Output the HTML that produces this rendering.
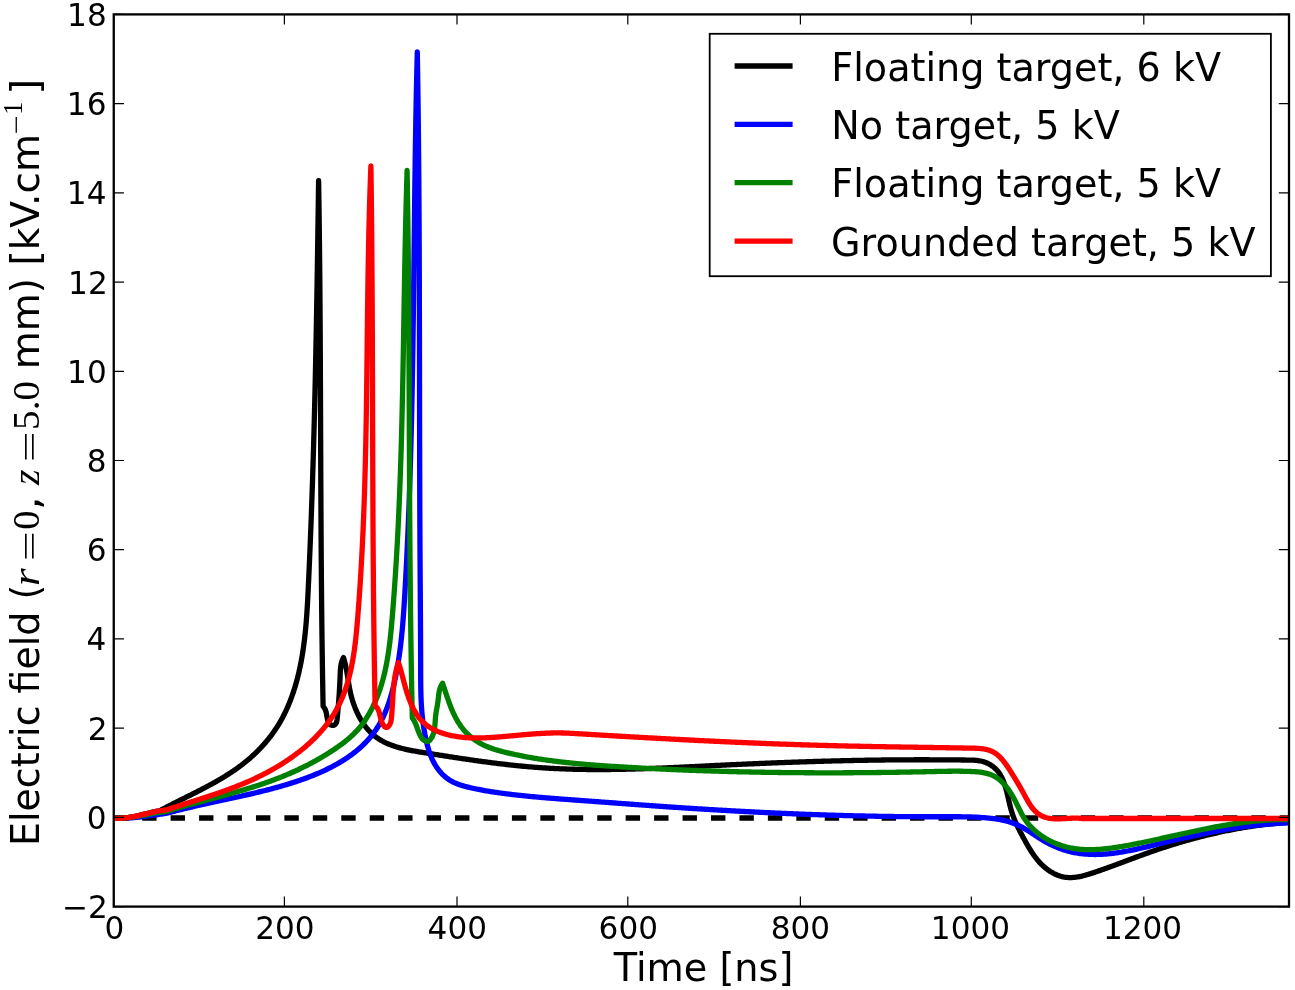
<!DOCTYPE html>
<html lang="en"><head><meta charset="utf-8">
<title>Electric field vs time</title>
<style>html,body{margin:0;padding:0;background:#fff}body{width:1295px;height:990px;overflow:hidden}svg{display:block}text{font-family:'DejaVu Sans','Bitstream Vera Sans','Liberation Sans',sans-serif;fill:#000}.m{font-family:'Liberation Serif','DejaVu Serif',serif}</style></head><body>
<svg width="1295" height="990" viewBox="0 0 1295 990">
<rect x="0" y="0" width="1295" height="990" fill="#fff"/>
<defs><clipPath id="ax"><rect x="113.75" y="14.40" width="1175.25" height="892.20"/></clipPath></defs>
<g clip-path="url(#ax)" fill="none" stroke-linejoin="round" stroke-linecap="butt" stroke-width="5.30">
<path d="M113.75,818.00 H1294.00" stroke="#000" stroke-dasharray="14.4 14.04"/>
<path d="M113.75,818.20 L114.96,818.27 L116.17,818.31 L117.37,818.33 L118.57,818.33 L119.77,818.30 L120.96,818.24 L122.16,818.17 L123.35,818.08 L124.53,817.96 L125.72,817.83 L126.90,817.68 L128.08,817.52 L129.26,817.34 L130.44,817.15 L131.62,816.94 L132.79,816.72 L133.97,816.49 L135.14,816.25 L136.31,816.01 L137.48,815.75 L138.65,815.49 L139.82,815.22 L140.99,814.95 L142.15,814.67 L143.32,814.39 L144.49,814.11 L145.66,813.83 L146.82,813.55 L147.99,813.27 L149.16,813.00 L150.33,812.72 L151.49,812.46 L152.66,812.19 L153.83,811.94 L155.00,811.69 L156.18,811.45 L157.35,811.22 L158.52,811.01 L159.70,810.80 L159.70,810.80 L160.72,810.25 L161.74,809.69 L162.76,809.14 L163.79,808.59 L164.82,808.04 L165.86,807.50 L166.90,806.95 L167.95,806.41 L168.99,805.86 L170.05,805.32 L171.10,804.78 L172.16,804.24 L173.22,803.70 L174.28,803.16 L175.35,802.62 L176.41,802.08 L177.48,801.55 L178.56,801.01 L179.63,800.47 L180.71,799.93 L181.79,799.39 L182.87,798.85 L183.95,798.31 L185.03,797.77 L186.12,797.23 L187.20,796.69 L188.29,796.15 L189.38,795.61 L190.47,795.06 L191.56,794.52 L192.65,793.97 L193.74,793.42 L194.83,792.87 L195.92,792.32 L197.01,791.77 L198.10,791.21 L199.19,790.65 L200.27,790.09 L201.36,789.53 L202.45,788.97 L203.54,788.40 L204.62,787.84 L205.71,787.26 L206.79,786.69 L207.87,786.11 L208.95,785.53 L210.03,784.95 L211.11,784.36 L212.18,783.78 L213.26,783.18 L214.33,782.59 L215.40,781.99 L216.46,781.38 L217.52,780.78 L218.58,780.17 L219.64,779.55 L220.69,778.93 L221.75,778.31 L222.79,777.68 L223.84,777.05 L224.88,776.41 L225.91,775.77 L226.95,775.12 L227.98,774.47 L229.00,773.81 L230.02,773.15 L231.04,772.49 L232.05,771.81 L233.06,771.14 L234.06,770.45 L235.06,769.76 L236.05,769.07 L237.03,768.37 L238.01,767.66 L238.99,766.95 L239.96,766.23 L240.93,765.51 L241.88,764.77 L242.84,764.04 L243.78,763.29 L244.72,762.54 L245.66,761.79 L246.59,761.03 L247.51,760.26 L248.43,759.48 L249.34,758.70 L250.24,757.92 L251.14,757.12 L252.03,756.32 L252.91,755.52 L253.79,754.71 L254.66,753.89 L255.52,753.07 L256.38,752.24 L257.23,751.40 L258.07,750.56 L258.91,749.71 L259.74,748.86 L260.56,748.00 L261.37,747.14 L262.18,746.27 L262.98,745.39 L263.77,744.50 L264.55,743.62 L265.33,742.72 L266.10,741.82 L266.86,740.91 L267.61,740.00 L268.36,739.08 L269.09,738.16 L269.82,737.23 L270.55,736.29 L271.26,735.35 L271.96,734.40 L272.66,733.45 L273.35,732.49 L274.03,731.52 L274.70,730.55 L275.36,729.58 L276.02,728.59 L276.66,727.61 L277.30,726.61 L277.93,725.61 L278.55,724.61 L279.16,723.60 L279.76,722.58 L280.35,721.56 L280.93,720.53 L281.51,719.50 L282.07,718.46 L282.63,717.42 L283.18,716.37 L283.72,715.32 L284.26,714.26 L284.78,713.20 L285.30,712.14 L285.81,711.07 L286.31,709.99 L286.80,708.91 L287.28,707.83 L287.76,706.74 L288.23,705.65 L288.69,704.56 L289.14,703.46 L289.59,702.36 L290.03,701.25 L290.46,700.14 L290.88,699.03 L291.30,697.91 L291.71,696.79 L292.11,695.67 L292.51,694.55 L292.90,693.42 L293.28,692.29 L293.65,691.16 L294.02,690.03 L294.38,688.89 L294.74,687.75 L295.09,686.61 L295.43,685.46 L295.76,684.32 L296.09,683.17 L296.41,682.02 L296.73,680.87 L297.04,679.72 L297.35,678.56 L297.64,677.41 L297.94,676.25 L298.22,675.09 L298.50,673.92 L298.78,672.76 L299.05,671.60 L299.31,670.43 L299.57,669.26 L299.82,668.09 L300.07,666.92 L300.31,665.74 L300.55,664.57 L300.78,663.39 L301.01,662.21 L301.23,661.03 L301.45,659.85 L301.66,658.67 L301.87,657.48 L302.07,656.30 L302.27,655.11 L302.46,653.92 L302.65,652.73 L302.84,651.54 L303.02,650.35 L303.20,649.16 L303.37,647.96 L303.54,646.77 L303.70,645.57 L303.86,644.37 L304.02,643.17 L304.17,641.98 L304.32,640.77 L304.47,639.57 L304.61,638.37 L304.75,637.17 L304.88,635.96 L305.01,634.76 L305.14,633.55 L305.27,632.34 L305.39,631.14 L305.51,629.93 L305.62,628.72 L305.74,627.51 L305.85,626.30 L305.95,625.09 L306.06,623.87 L306.16,622.66 L306.26,621.45 L306.36,620.23 L306.45,619.02 L306.54,617.80 L306.63,616.59 L306.72,615.37 L306.81,614.16 L306.89,612.94 L306.97,611.72 L307.05,610.51 L307.13,609.29 L307.21,608.07 L307.28,606.85 L307.35,605.63 L307.43,604.42 L307.50,603.20 L307.57,601.98 L307.63,600.76 L307.70,599.54 L307.76,598.32 L307.83,597.10 L307.89,595.88 L307.95,594.66 L308.01,593.45 L308.07,592.23 L308.13,591.01 L308.19,589.79 L308.25,588.57 L308.31,587.35 L308.37,586.13 L308.42,584.92 L308.48,583.70 L308.54,582.48 L308.59,581.26 L308.65,580.05 L308.70,578.83 L308.76,577.61 L308.81,576.40 L308.87,575.18 L308.92,573.96 L308.98,572.75 L309.03,571.53 L309.09,570.32 L309.14,569.10 L309.20,567.89 L309.25,566.68 L309.30,565.46 L309.35,564.25 L309.41,563.04 L309.46,561.82 L309.51,560.61 L309.56,559.40 L309.62,558.18 L309.67,556.97 L309.72,555.76 L309.77,554.55 L309.82,553.34 L309.87,552.13 L309.92,550.92 L309.97,549.70 L310.02,548.49 L310.07,547.28 L310.12,546.07 L310.17,544.86 L310.22,543.65 L310.27,542.44 L310.32,541.24 L310.37,540.03 L310.42,538.82 L310.47,537.61 L310.51,536.40 L310.56,535.19 L310.61,533.99 L310.66,532.78 L310.70,531.57 L310.75,530.36 L310.80,529.16 L310.84,527.95 L310.89,526.74 L310.94,525.54 L310.98,524.33 L311.03,523.12 L311.07,521.92 L311.12,520.71 L311.16,519.51 L311.21,518.30 L311.25,517.10 L311.30,515.89 L311.34,514.69 L311.39,513.48 L311.43,512.28 L311.48,511.07 L311.52,509.87 L311.56,508.66 L311.61,507.46 L311.65,506.26 L311.69,505.05 L311.73,503.85 L311.78,502.65 L311.82,501.44 L311.86,500.24 L311.90,499.04 L311.94,497.84 L311.99,496.63 L312.03,495.43 L312.07,494.23 L312.11,493.03 L312.15,491.83 L312.19,490.62 L312.23,489.42 L312.27,488.22 L312.31,487.02 L312.35,485.82 L312.39,484.62 L312.43,483.42 L312.47,482.22 L312.51,481.02 L312.55,479.82 L312.59,478.62 L312.63,477.42 L312.66,476.22 L312.70,475.02 L312.74,473.82 L312.78,472.62 L312.82,471.42 L312.85,470.22 L312.89,469.02 L312.93,467.82 L312.97,466.62 L313.00,465.42 L313.04,464.22 L313.08,463.03 L313.11,461.83 L313.15,460.63 L313.19,459.43 L313.22,458.23 L313.26,457.03 L313.29,455.84 L313.33,454.64 L313.36,453.44 L313.40,452.24 L313.43,451.04 L313.47,449.85 L313.50,448.65 L313.54,447.45 L313.57,446.25 L313.61,445.06 L313.64,443.86 L313.67,442.66 L313.71,441.47 L313.74,440.27 L313.77,439.07 L313.81,437.87 L313.84,436.68 L313.87,435.48 L313.91,434.28 L313.94,433.09 L313.97,431.89 L314.00,430.70 L314.04,429.50 L314.07,428.30 L314.10,427.11 L314.13,425.91 L314.16,424.71 L314.20,423.52 L314.23,422.32 L314.26,421.13 L314.29,419.93 L314.32,418.73 L314.35,417.54 L314.38,416.34 L314.41,415.15 L314.44,413.95 L314.47,412.76 L314.50,411.56 L314.53,410.36 L314.56,409.17 L314.59,407.97 L314.62,406.78 L314.65,405.58 L314.68,404.39 L314.71,403.19 L314.74,402.00 L314.77,400.80 L314.80,399.61 L314.83,398.41 L314.85,397.21 L314.88,396.02 L314.91,394.82 L314.94,393.63 L314.97,392.43 L315.00,391.24 L315.02,390.04 L315.05,388.85 L315.08,387.65 L315.11,386.46 L315.13,385.26 L315.16,384.07 L315.19,382.87 L315.21,381.67 L315.24,380.48 L315.27,379.28 L315.29,378.09 L315.32,376.89 L315.35,375.70 L315.37,374.50 L315.40,373.31 L315.43,372.11 L315.45,370.92 L315.48,369.72 L315.50,368.53 L315.53,367.33 L315.55,366.13 L315.58,364.94 L315.60,363.74 L315.63,362.55 L315.65,361.35 L315.68,360.16 L315.70,358.96 L315.73,357.76 L315.75,356.57 L315.78,355.37 L315.80,354.18 L315.83,352.98 L315.85,351.78 L315.88,350.59 L315.90,349.39 L315.92,348.20 L315.95,347.00 L315.97,345.80 L315.99,344.61 L316.02,343.41 L316.04,342.21 L316.06,341.02 L316.09,339.82 L316.11,338.62 L316.13,337.43 L316.16,336.23 L316.18,335.03 L316.20,333.84 L316.23,332.64 L316.25,331.44 L316.27,330.24 L316.29,329.05 L316.32,327.85 L316.34,326.65 L316.36,325.45 L316.38,324.26 L316.40,323.06 L316.43,321.86 L316.45,320.66 L316.47,319.46 L316.49,318.27 L316.51,317.07 L316.53,315.87 L316.56,314.67 L316.58,313.47 L316.60,312.27 L316.62,311.07 L316.64,309.88 L316.66,308.68 L316.68,307.48 L316.70,306.28 L316.72,305.08 L316.74,303.88 L316.76,302.68 L316.79,301.48 L316.81,300.28 L316.83,299.08 L316.85,297.88 L316.87,296.68 L316.89,295.48 L316.91,294.28 L316.93,293.08 L316.95,291.88 L316.97,290.68 L316.99,289.48 L317.01,288.27 L317.03,287.07 L317.05,285.87 L317.07,284.67 L317.09,283.47 L317.11,282.27 L317.12,281.06 L317.14,279.86 L317.16,278.66 L317.18,277.46 L317.20,276.25 L317.22,275.05 L317.24,273.85 L317.26,272.65 L317.28,271.44 L317.30,270.24 L317.32,269.03 L317.34,267.83 L317.35,266.63 L317.37,265.42 L317.39,264.22 L317.41,263.01 L317.43,261.81 L317.45,260.60 L317.47,259.40 L317.48,258.19 L317.50,256.99 L317.52,255.78 L317.54,254.58 L317.56,253.37 L317.58,252.16 L317.59,250.96 L317.61,249.75 L317.63,248.54 L317.65,247.34 L317.67,246.13 L317.68,244.92 L317.70,243.72 L317.72,242.51 L317.74,241.30 L317.76,240.09 L317.77,238.88 L317.79,237.67 L317.81,236.47 L317.83,235.26 L317.84,234.05 L317.86,232.84 L317.88,231.63 L317.90,230.42 L317.91,229.21 L317.93,228.00 L317.95,226.79 L317.97,225.58 L317.98,224.37 L318.00,223.15 L318.02,221.94 L318.04,220.73 L318.05,219.52 L318.07,218.31 L318.09,217.09 L318.11,215.88 L318.12,214.67 L318.14,213.46 L318.16,212.24 L318.17,211.03 L318.19,209.81 L318.21,208.60 L318.23,207.39 L318.24,206.17 L318.26,204.96 L318.28,203.74 L318.29,202.53 L318.31,201.31 L318.33,200.09 L318.35,198.88 L318.36,197.66 L318.38,196.44 L318.40,195.23 L318.41,194.01 L318.43,192.79 L318.45,191.57 L318.46,190.36 L318.48,189.14 L318.50,187.92 L318.52,186.70 L318.53,185.48 L318.55,184.26 L318.57,183.04 L318.58,181.82 L318.60,180.60 L318.60,180.60 L318.62,181.80 L318.64,183.01 L318.66,184.21 L318.68,185.41 L318.70,186.61 L318.72,187.82 L318.74,189.02 L318.76,190.22 L318.77,191.42 L318.79,192.63 L318.81,193.83 L318.83,195.03 L318.85,196.23 L318.87,197.44 L318.88,198.64 L318.90,199.84 L318.92,201.05 L318.94,202.25 L318.95,203.45 L318.97,204.65 L318.99,205.86 L319.01,207.06 L319.02,208.26 L319.04,209.46 L319.06,210.67 L319.07,211.87 L319.09,213.07 L319.11,214.27 L319.12,215.48 L319.14,216.68 L319.15,217.88 L319.17,219.09 L319.18,220.29 L319.20,221.49 L319.22,222.69 L319.23,223.90 L319.25,225.10 L319.26,226.30 L319.28,227.50 L319.29,228.71 L319.30,229.91 L319.32,231.11 L319.33,232.31 L319.35,233.52 L319.36,234.72 L319.38,235.92 L319.39,237.13 L319.40,238.33 L319.42,239.53 L319.43,240.73 L319.44,241.94 L319.46,243.14 L319.47,244.34 L319.48,245.54 L319.50,246.75 L319.51,247.95 L319.52,249.15 L319.53,250.36 L319.55,251.56 L319.56,252.76 L319.57,253.96 L319.58,255.17 L319.60,256.37 L319.61,257.57 L319.62,258.77 L319.63,259.98 L319.64,261.18 L319.66,262.38 L319.67,263.59 L319.68,264.79 L319.69,265.99 L319.70,267.19 L319.71,268.40 L319.72,269.60 L319.73,270.80 L319.74,272.01 L319.76,273.21 L319.77,274.41 L319.78,275.61 L319.79,276.82 L319.80,278.02 L319.81,279.22 L319.82,280.42 L319.83,281.63 L319.84,282.83 L319.85,284.03 L319.86,285.24 L319.87,286.44 L319.88,287.64 L319.89,288.84 L319.90,290.05 L319.91,291.25 L319.91,292.45 L319.92,293.66 L319.93,294.86 L319.94,296.06 L319.95,297.26 L319.96,298.47 L319.97,299.67 L319.98,300.87 L319.99,302.07 L320.00,303.28 L320.00,304.48 L320.01,305.68 L320.02,306.89 L320.03,308.09 L320.04,309.29 L320.05,310.49 L320.05,311.70 L320.06,312.90 L320.07,314.10 L320.08,315.31 L320.08,316.51 L320.09,317.71 L320.10,318.91 L320.11,320.12 L320.12,321.32 L320.12,322.52 L320.13,323.72 L320.14,324.93 L320.14,326.13 L320.15,327.33 L320.16,328.54 L320.17,329.74 L320.17,330.94 L320.18,332.14 L320.19,333.35 L320.19,334.55 L320.20,335.75 L320.21,336.96 L320.21,338.16 L320.22,339.36 L320.23,340.56 L320.23,341.77 L320.24,342.97 L320.25,344.17 L320.25,345.38 L320.26,346.58 L320.27,347.78 L320.27,348.98 L320.28,350.19 L320.28,351.39 L320.29,352.59 L320.30,353.80 L320.30,355.00 L320.31,356.20 L320.31,357.40 L320.32,358.61 L320.33,359.81 L320.33,361.01 L320.34,362.21 L320.34,363.42 L320.35,364.62 L320.35,365.82 L320.36,367.03 L320.37,368.23 L320.37,369.43 L320.38,370.63 L320.38,371.84 L320.39,373.04 L320.39,374.24 L320.40,375.45 L320.40,376.65 L320.41,377.85 L320.41,379.05 L320.42,380.26 L320.42,381.46 L320.43,382.66 L320.43,383.87 L320.44,385.07 L320.44,386.27 L320.45,387.47 L320.45,388.68 L320.46,389.88 L320.46,391.08 L320.47,392.29 L320.47,393.49 L320.48,394.69 L320.48,395.89 L320.49,397.10 L320.49,398.30 L320.50,399.50 L320.50,400.71 L320.51,401.91 L320.51,403.11 L320.52,404.31 L320.52,405.52 L320.53,406.72 L320.53,407.92 L320.54,409.13 L320.54,410.33 L320.55,411.53 L320.55,412.73 L320.55,413.94 L320.56,415.14 L320.56,416.34 L320.57,417.55 L320.57,418.75 L320.58,419.95 L320.58,421.15 L320.59,422.36 L320.59,423.56 L320.60,424.76 L320.60,425.96 L320.61,427.17 L320.61,428.37 L320.61,429.57 L320.62,430.78 L320.62,431.98 L320.63,433.18 L320.63,434.38 L320.64,435.59 L320.64,436.79 L320.65,437.99 L320.65,439.20 L320.66,440.40 L320.66,441.60 L320.66,442.80 L320.67,444.01 L320.67,445.21 L320.68,446.41 L320.68,447.62 L320.69,448.82 L320.69,450.02 L320.70,451.22 L320.70,452.43 L320.71,453.63 L320.71,454.83 L320.72,456.04 L320.72,457.24 L320.73,458.44 L320.73,459.64 L320.73,460.85 L320.74,462.05 L320.74,463.25 L320.75,464.46 L320.75,465.66 L320.76,466.86 L320.76,468.06 L320.77,469.27 L320.77,470.47 L320.78,471.67 L320.78,472.88 L320.79,474.08 L320.79,475.28 L320.80,476.48 L320.80,477.69 L320.81,478.89 L320.81,480.09 L320.82,481.29 L320.82,482.50 L320.83,483.70 L320.83,484.90 L320.84,486.11 L320.85,487.31 L320.85,488.51 L320.86,489.71 L320.86,490.92 L320.87,492.12 L320.87,493.32 L320.88,494.53 L320.88,495.73 L320.89,496.93 L320.89,498.13 L320.90,499.34 L320.91,500.54 L320.91,501.74 L320.92,502.95 L320.92,504.15 L320.93,505.35 L320.94,506.55 L320.94,507.76 L320.95,508.96 L320.95,510.16 L320.96,511.37 L320.97,512.57 L320.97,513.77 L320.98,514.97 L320.99,516.18 L320.99,517.38 L321.00,518.58 L321.00,519.78 L321.01,520.99 L321.02,522.19 L321.02,523.39 L321.03,524.60 L321.04,525.80 L321.04,527.00 L321.05,528.20 L321.06,529.41 L321.07,530.61 L321.07,531.81 L321.08,533.02 L321.09,534.22 L321.09,535.42 L321.10,536.62 L321.11,537.83 L321.12,539.03 L321.12,540.23 L321.13,541.43 L321.14,542.64 L321.15,543.84 L321.15,545.04 L321.16,546.25 L321.17,547.45 L321.18,548.65 L321.19,549.85 L321.19,551.06 L321.20,552.26 L321.21,553.46 L321.22,554.67 L321.23,555.87 L321.24,557.07 L321.24,558.27 L321.25,559.48 L321.26,560.68 L321.27,561.88 L321.28,563.08 L321.29,564.29 L321.30,565.49 L321.31,566.69 L321.32,567.90 L321.32,569.10 L321.33,570.30 L321.34,571.50 L321.35,572.71 L321.36,573.91 L321.37,575.11 L321.38,576.31 L321.39,577.52 L321.40,578.72 L321.41,579.92 L321.42,581.13 L321.43,582.33 L321.44,583.53 L321.45,584.73 L321.46,585.94 L321.47,587.14 L321.48,588.34 L321.50,589.54 L321.51,590.75 L321.52,591.95 L321.53,593.15 L321.54,594.36 L321.55,595.56 L321.56,596.76 L321.57,597.96 L321.59,599.17 L321.60,600.37 L321.61,601.57 L321.62,602.77 L321.63,603.98 L321.64,605.18 L321.66,606.38 L321.67,607.59 L321.68,608.79 L321.69,609.99 L321.71,611.19 L321.72,612.40 L321.73,613.60 L321.74,614.80 L321.76,616.00 L321.77,617.21 L321.78,618.41 L321.80,619.61 L321.81,620.81 L321.82,622.02 L321.84,623.22 L321.85,624.42 L321.87,625.63 L321.88,626.83 L321.89,628.03 L321.91,629.23 L321.92,630.44 L321.94,631.64 L321.95,632.84 L321.97,634.04 L321.98,635.25 L322.00,636.45 L322.01,637.65 L322.03,638.85 L322.04,640.06 L322.06,641.26 L322.07,642.46 L322.09,643.67 L322.11,644.87 L322.12,646.07 L322.14,647.27 L322.15,648.48 L322.17,649.68 L322.19,650.88 L322.20,652.08 L322.22,653.29 L322.24,654.49 L322.25,655.69 L322.27,656.89 L322.29,658.10 L322.31,659.30 L322.32,660.50 L322.34,661.70 L322.36,662.91 L322.38,664.11 L322.40,665.31 L322.41,666.52 L322.43,667.72 L322.45,668.92 L322.47,670.12 L322.49,671.33 L322.51,672.53 L322.53,673.73 L322.55,674.93 L322.56,676.14 L322.58,677.34 L322.60,678.54 L322.62,679.74 L322.64,680.95 L322.66,682.15 L322.68,683.35 L322.70,684.55 L322.73,685.76 L322.75,686.96 L322.77,688.16 L322.79,689.36 L322.81,690.57 L322.83,691.77 L322.85,692.97 L322.87,694.17 L322.90,695.38 L322.92,696.58 L322.94,697.78 L322.96,698.98 L322.99,700.19 L323.01,701.39 L323.03,702.59 L323.05,703.79 L323.08,705.00 L323.10,706.20 L323.10,706.20 L323.90,707.27 L324.56,708.31 L325.10,709.34 L325.54,710.38 L325.90,711.44 L326.20,712.54 L326.45,713.70 L326.67,714.93 L326.88,716.24 L327.10,717.58 L327.36,718.93 L327.68,720.24 L328.07,721.48 L328.57,722.61 L329.20,723.59 L329.97,724.40 L330.90,724.99 L331.92,725.32 L332.98,725.36 L334.01,725.10 L334.94,724.57 L335.70,723.81 L336.27,722.87 L336.66,721.77 L336.92,720.57 L337.10,719.29 L337.23,717.99 L337.36,716.70 L337.48,715.41 L337.60,714.14 L337.72,712.87 L337.83,711.61 L337.94,710.36 L338.05,709.12 L338.16,707.89 L338.26,706.66 L338.36,705.44 L338.46,704.22 L338.56,703.01 L338.65,701.80 L338.74,700.60 L338.83,699.40 L338.92,698.20 L339.00,697.01 L339.08,695.82 L339.16,694.63 L339.24,693.44 L339.31,692.25 L339.39,691.06 L339.46,689.87 L339.53,688.68 L339.59,687.48 L339.66,686.29 L339.72,685.09 L339.78,683.89 L339.84,682.69 L339.90,681.48 L339.95,680.26 L340.00,679.05 L340.06,677.82 L340.10,676.59 L340.15,675.36 L340.20,674.11 L340.25,672.86 L340.31,671.62 L340.38,670.37 L340.47,669.13 L340.59,667.89 L340.73,666.67 L340.91,665.46 L341.13,664.26 L341.38,663.09 L341.69,661.93 L342.05,660.81 L342.47,659.71 L342.95,658.64 L343.50,657.60 L343.50,657.60 L343.87,658.80 L344.21,660.00 L344.54,661.18 L344.85,662.37 L345.14,663.55 L345.41,664.72 L345.67,665.89 L345.92,667.05 L346.16,668.21 L346.38,669.37 L346.60,670.53 L346.81,671.68 L347.00,672.83 L347.20,673.98 L347.38,675.12 L347.57,676.27 L347.75,677.41 L347.93,678.55 L348.11,679.69 L348.28,680.83 L348.46,681.97 L348.65,683.12 L348.83,684.26 L349.03,685.40 L349.23,686.55 L349.43,687.69 L349.65,688.84 L349.87,689.99 L350.11,691.15 L350.35,692.31 L350.61,693.47 L350.89,694.63 L351.18,695.80 L351.48,696.97 L351.81,698.15 L352.15,699.33 L352.50,700.51 L352.88,701.69 L353.27,702.87 L353.68,704.05 L354.10,705.24 L354.54,706.41 L355.00,707.59 L355.47,708.76 L355.96,709.93 L356.46,711.08 L356.98,712.24 L357.52,713.38 L358.08,714.52 L358.64,715.65 L359.23,716.76 L359.83,717.87 L360.45,718.96 L361.08,720.04 L361.73,721.11 L362.39,722.16 L363.07,723.20 L363.77,724.22 L364.48,725.22 L365.21,726.21 L365.95,727.17 L366.70,728.12 L367.48,729.04 L368.26,729.95 L369.06,730.82 L369.88,731.68 L370.71,732.51 L371.56,733.32 L372.42,734.10 L373.30,734.86 L374.19,735.60 L375.09,736.31 L376.00,737.01 L376.93,737.68 L377.88,738.32 L378.83,738.95 L379.80,739.56 L380.77,740.15 L381.76,740.72 L382.76,741.27 L383.77,741.80 L384.80,742.31 L385.83,742.81 L386.87,743.29 L387.92,743.75 L388.99,744.20 L390.06,744.63 L391.14,745.05 L392.22,745.45 L393.32,745.84 L394.42,746.22 L395.54,746.58 L396.65,746.93 L397.78,747.26 L398.91,747.59 L400.05,747.91 L401.20,748.21 L402.35,748.50 L403.51,748.79 L404.67,749.06 L405.84,749.33 L407.01,749.59 L408.18,749.84 L409.36,750.08 L410.55,750.32 L411.73,750.55 L412.93,750.77 L414.12,750.99 L415.31,751.21 L416.51,751.42 L417.71,751.62 L418.92,751.83 L420.12,752.03 L421.32,752.22 L422.53,752.42 L423.73,752.61 L424.94,752.81 L426.15,753.00 L427.35,753.19 L428.56,753.38 L429.76,753.57 L430.97,753.77 L432.17,753.96 L433.37,754.15 L434.58,754.34 L435.78,754.53 L436.98,754.72 L438.19,754.91 L439.39,755.10 L440.59,755.29 L441.79,755.48 L443.00,755.67 L444.20,755.85 L445.40,756.04 L446.60,756.23 L447.80,756.41 L449.00,756.60 L450.20,756.79 L451.40,756.97 L452.60,757.15 L453.80,757.34 L455.00,757.52 L456.20,757.70 L457.40,757.88 L458.60,758.07 L459.80,758.25 L460.99,758.42 L462.19,758.60 L463.39,758.78 L464.59,758.96 L465.79,759.13 L466.98,759.31 L468.18,759.48 L469.38,759.66 L470.58,759.83 L471.77,760.00 L472.97,760.17 L474.17,760.34 L475.36,760.51 L476.56,760.68 L477.76,760.85 L478.95,761.01 L480.15,761.18 L481.34,761.34 L482.54,761.51 L483.73,761.67 L484.93,761.83 L486.13,761.99 L487.32,762.15 L488.52,762.30 L489.71,762.46 L490.91,762.61 L492.10,762.77 L493.30,762.92 L494.49,763.07 L495.69,763.22 L496.88,763.37 L498.08,763.51 L499.27,763.66 L500.46,763.80 L501.66,763.94 L502.85,764.08 L504.05,764.22 L505.24,764.36 L506.44,764.50 L507.63,764.63 L508.83,764.77 L510.02,764.90 L511.21,765.03 L512.41,765.16 L513.60,765.28 L514.80,765.41 L515.99,765.53 L517.19,765.66 L518.38,765.78 L519.57,765.89 L520.77,766.01 L521.96,766.13 L523.16,766.24 L524.35,766.35 L525.55,766.46 L526.74,766.57 L527.94,766.67 L529.13,766.78 L530.33,766.88 L531.52,766.98 L532.71,767.08 L533.91,767.17 L535.10,767.27 L536.30,767.36 L537.50,767.45 L538.69,767.54 L539.89,767.62 L541.08,767.71 L542.28,767.79 L543.47,767.87 L544.67,767.95 L545.86,768.02 L547.06,768.10 L548.26,768.17 L549.45,768.24 L550.65,768.30 L551.85,768.37 L553.04,768.43 L554.24,768.50 L555.43,768.56 L556.63,768.61 L557.83,768.67 L559.03,768.72 L560.22,768.78 L561.42,768.83 L562.62,768.87 L563.81,768.92 L565.01,768.97 L566.21,769.01 L567.41,769.05 L568.60,769.09 L569.80,769.13 L571.00,769.16 L572.20,769.20 L573.39,769.23 L574.59,769.26 L575.79,769.29 L576.99,769.32 L578.19,769.34 L579.39,769.37 L580.58,769.39 L581.78,769.41 L582.98,769.43 L584.18,769.45 L585.38,769.47 L586.58,769.48 L587.78,769.50 L588.97,769.51 L590.17,769.52 L591.37,769.53 L592.57,769.53 L593.77,769.54 L594.97,769.55 L596.17,769.55 L597.37,769.55 L598.57,769.55 L599.77,769.55 L600.97,769.55 L602.17,769.55 L603.37,769.54 L604.57,769.53 L605.77,769.53 L606.96,769.52 L608.16,769.51 L609.36,769.50 L610.56,769.49 L611.76,769.47 L612.96,769.46 L614.16,769.44 L615.36,769.42 L616.57,769.41 L617.77,769.39 L618.97,769.37 L620.17,769.35 L621.37,769.32 L622.57,769.30 L623.77,769.28 L624.97,769.25 L626.17,769.22 L627.37,769.20 L628.57,769.17 L629.77,769.14 L630.97,769.11 L632.17,769.07 L633.37,769.04 L634.57,769.01 L635.77,768.97 L636.97,768.94 L638.18,768.90 L639.38,768.87 L640.58,768.83 L641.78,768.79 L642.98,768.75 L644.18,768.71 L645.38,768.67 L646.58,768.63 L647.78,768.59 L648.99,768.54 L650.19,768.50 L651.39,768.46 L652.59,768.41 L653.79,768.37 L654.99,768.32 L656.19,768.27 L657.39,768.22 L658.60,768.18 L659.80,768.13 L661.00,768.08 L662.20,768.03 L663.40,767.98 L664.60,767.93 L665.80,767.87 L667.01,767.82 L668.21,767.77 L669.41,767.72 L670.61,767.66 L671.81,767.61 L673.01,767.56 L674.22,767.50 L675.42,767.45 L676.62,767.39 L677.82,767.34 L679.02,767.28 L680.22,767.22 L681.42,767.17 L682.63,767.11 L683.83,767.05 L685.03,767.00 L686.23,766.94 L687.43,766.88 L688.63,766.82 L689.84,766.76 L691.04,766.70 L692.24,766.65 L693.44,766.59 L694.64,766.53 L695.84,766.47 L697.04,766.41 L698.25,766.35 L699.45,766.29 L700.65,766.23 L701.85,766.17 L703.05,766.11 L704.25,766.05 L705.46,765.99 L706.66,765.93 L707.86,765.88 L709.06,765.82 L710.26,765.76 L711.46,765.70 L712.66,765.64 L713.87,765.58 L715.07,765.52 L716.27,765.46 L717.47,765.40 L718.67,765.34 L719.87,765.29 L721.07,765.23 L722.27,765.17 L723.48,765.11 L724.68,765.06 L725.88,765.00 L727.08,764.94 L728.28,764.89 L729.48,764.83 L730.68,764.77 L731.88,764.72 L733.08,764.66 L734.28,764.60 L735.49,764.55 L736.69,764.49 L737.89,764.44 L739.09,764.38 L740.29,764.33 L741.49,764.28 L742.69,764.22 L743.89,764.17 L745.09,764.12 L746.29,764.06 L747.49,764.01 L748.69,763.96 L749.90,763.90 L751.10,763.85 L752.30,763.80 L753.50,763.75 L754.70,763.70 L755.90,763.65 L757.10,763.59 L758.30,763.54 L759.50,763.49 L760.70,763.44 L761.90,763.39 L763.10,763.34 L764.30,763.29 L765.50,763.24 L766.70,763.20 L767.90,763.15 L769.10,763.10 L770.31,763.05 L771.51,763.00 L772.71,762.96 L773.91,762.91 L775.11,762.86 L776.31,762.82 L777.51,762.77 L778.71,762.72 L779.91,762.68 L781.11,762.63 L782.31,762.59 L783.51,762.54 L784.71,762.50 L785.91,762.45 L787.11,762.41 L788.31,762.36 L789.51,762.32 L790.71,762.28 L791.91,762.24 L793.11,762.19 L794.31,762.15 L795.51,762.11 L796.71,762.07 L797.91,762.03 L799.11,761.99 L800.31,761.94 L801.51,761.90 L802.71,761.86 L803.91,761.82 L805.11,761.79 L806.31,761.75 L807.51,761.71 L808.71,761.67 L809.91,761.63 L811.11,761.59 L812.31,761.56 L813.51,761.52 L814.71,761.48 L815.91,761.45 L817.11,761.41 L818.31,761.37 L819.51,761.34 L820.71,761.30 L821.91,761.27 L823.11,761.24 L824.32,761.20 L825.52,761.17 L826.72,761.13 L827.92,761.10 L829.12,761.07 L830.32,761.04 L831.52,761.01 L832.72,760.97 L833.92,760.94 L835.12,760.91 L836.32,760.88 L837.52,760.85 L838.72,760.82 L839.92,760.79 L841.12,760.76 L842.32,760.74 L843.52,760.71 L844.72,760.68 L845.92,760.65 L847.12,760.63 L848.32,760.60 L849.52,760.57 L850.72,760.55 L851.92,760.52 L853.12,760.50 L854.32,760.47 L855.52,760.45 L856.72,760.42 L857.92,760.40 L859.12,760.38 L860.32,760.35 L861.52,760.33 L862.72,760.31 L863.92,760.29 L865.12,760.27 L866.32,760.25 L867.52,760.23 L868.72,760.21 L869.92,760.19 L871.12,760.17 L872.32,760.15 L873.52,760.13 L874.72,760.11 L875.92,760.10 L877.12,760.08 L878.32,760.06 L879.52,760.05 L880.72,760.03 L881.92,760.02 L883.12,760.00 L884.32,759.99 L885.52,759.97 L886.72,759.96 L887.92,759.95 L889.12,759.93 L890.32,759.92 L891.52,759.91 L892.72,759.90 L893.93,759.89 L895.13,759.88 L896.33,759.87 L897.53,759.86 L898.73,759.85 L899.93,759.84 L901.13,759.83 L902.33,759.82 L903.53,759.82 L904.73,759.81 L905.93,759.80 L907.13,759.80 L908.33,759.79 L909.53,759.79 L910.73,759.78 L911.93,759.78 L913.13,759.78 L914.33,759.77 L915.53,759.77 L916.74,759.77 L917.94,759.77 L919.14,759.76 L920.34,759.76 L921.54,759.76 L922.74,759.76 L923.94,759.76 L925.14,759.77 L926.34,759.77 L927.54,759.77 L928.74,759.77 L929.94,759.78 L931.15,759.78 L932.35,759.78 L933.55,759.79 L934.75,759.79 L935.95,759.80 L937.15,759.80 L938.35,759.81 L939.56,759.82 L940.76,759.83 L941.96,759.83 L943.16,759.84 L944.37,759.85 L945.57,759.86 L946.77,759.87 L947.98,759.87 L949.18,759.88 L950.39,759.89 L951.60,759.90 L952.80,759.91 L954.01,759.92 L955.22,759.93 L956.43,759.94 L957.64,759.95 L958.85,759.96 L960.06,759.97 L961.27,759.99 L962.49,760.00 L963.70,760.01 L964.92,760.02 L966.13,760.03 L967.35,760.04 L968.57,760.05 L969.78,760.07 L971.00,760.09 L972.22,760.13 L973.43,760.18 L974.64,760.25 L975.84,760.34 L977.04,760.46 L978.23,760.60 L979.41,760.78 L980.59,761.00 L981.75,761.25 L982.91,761.55 L984.05,761.90 L985.19,762.29 L986.30,762.73 L987.40,763.21 L988.48,763.74 L989.53,764.31 L990.56,764.91 L991.56,765.56 L992.53,766.24 L993.47,766.95 L994.37,767.70 L995.24,768.49 L996.06,769.30 L996.85,770.14 L997.60,771.01 L998.32,771.90 L999.00,772.83 L999.64,773.77 L1000.26,774.74 L1000.84,775.74 L1001.40,776.75 L1001.92,777.79 L1002.43,778.84 L1002.90,779.92 L1003.36,781.01 L1003.79,782.11 L1004.20,783.23 L1004.60,784.37 L1004.97,785.52 L1005.33,786.68 L1005.68,787.85 L1006.01,789.03 L1006.33,790.22 L1006.64,791.42 L1006.95,792.62 L1007.24,793.83 L1007.53,795.04 L1007.81,796.26 L1008.09,797.48 L1008.37,798.70 L1008.65,799.91 L1008.93,801.13 L1009.21,802.35 L1009.49,803.56 L1009.78,804.77 L1010.08,805.97 L1010.39,807.17 L1010.70,808.36 L1011.03,809.54 L1011.37,810.71 L1011.72,811.87 L1012.09,813.01 L1012.47,814.15 L1012.86,815.28 L1013.26,816.40 L1013.68,817.51 L1014.11,818.62 L1014.55,819.71 L1015.00,820.80 L1015.46,821.88 L1015.93,822.96 L1016.41,824.03 L1016.90,825.10 L1017.39,826.16 L1017.90,827.22 L1018.41,828.27 L1018.94,829.32 L1019.46,830.37 L1020.00,831.42 L1020.54,832.46 L1021.09,833.50 L1021.64,834.55 L1022.20,835.59 L1022.76,836.64 L1023.33,837.68 L1023.90,838.73 L1024.48,839.78 L1025.05,840.83 L1025.64,841.88 L1026.22,842.93 L1026.81,843.98 L1027.41,845.03 L1028.02,846.08 L1028.63,847.13 L1029.25,848.17 L1029.88,849.21 L1030.52,850.24 L1031.17,851.27 L1031.83,852.29 L1032.51,853.30 L1033.19,854.31 L1033.89,855.31 L1034.60,856.29 L1035.33,857.27 L1036.07,858.23 L1036.83,859.19 L1037.60,860.13 L1038.39,861.05 L1039.20,861.96 L1040.03,862.86 L1040.88,863.74 L1041.74,864.60 L1042.62,865.45 L1043.53,866.27 L1044.45,867.08 L1045.38,867.86 L1046.33,868.63 L1047.30,869.36 L1048.28,870.08 L1049.28,870.77 L1050.29,871.43 L1051.31,872.06 L1052.35,872.66 L1053.40,873.24 L1054.46,873.78 L1055.53,874.29 L1056.61,874.77 L1057.69,875.21 L1058.79,875.62 L1059.90,875.99 L1061.02,876.32 L1062.14,876.62 L1063.27,876.87 L1064.40,877.09 L1065.54,877.26 L1066.69,877.39 L1067.84,877.48 L1068.99,877.53 L1070.15,877.55 L1071.31,877.53 L1072.48,877.48 L1073.65,877.40 L1074.82,877.29 L1075.99,877.14 L1077.17,876.98 L1078.35,876.78 L1079.53,876.56 L1080.71,876.32 L1081.89,876.06 L1083.08,875.77 L1084.26,875.47 L1085.44,875.16 L1086.62,874.82 L1087.81,874.48 L1088.99,874.12 L1090.17,873.75 L1091.35,873.38 L1092.52,872.99 L1093.70,872.61 L1094.87,872.21 L1096.04,871.82 L1097.21,871.42 L1098.37,871.02 L1099.53,870.62 L1100.69,870.21 L1101.84,869.81 L1102.99,869.40 L1104.15,868.99 L1105.29,868.59 L1106.44,868.18 L1107.58,867.77 L1108.72,867.35 L1109.86,866.94 L1111.00,866.53 L1112.13,866.11 L1113.27,865.70 L1114.40,865.28 L1115.53,864.86 L1116.66,864.45 L1117.79,864.03 L1118.91,863.61 L1120.04,863.19 L1121.16,862.78 L1122.28,862.36 L1123.40,861.94 L1124.52,861.52 L1125.64,861.10 L1126.76,860.69 L1127.88,860.27 L1129.00,859.85 L1130.12,859.43 L1131.23,859.02 L1132.35,858.60 L1133.47,858.19 L1134.58,857.77 L1135.70,857.36 L1136.81,856.94 L1137.93,856.53 L1139.05,856.12 L1140.16,855.71 L1141.28,855.30 L1142.40,854.90 L1143.52,854.49 L1144.63,854.08 L1145.75,853.68 L1146.87,853.28 L1147.99,852.88 L1149.12,852.48 L1150.24,852.09 L1151.36,851.69 L1152.49,851.30 L1153.62,850.91 L1154.74,850.52 L1155.87,850.13 L1157.00,849.75 L1158.14,849.36 L1159.27,848.98 L1160.40,848.60 L1161.54,848.23 L1162.67,847.85 L1163.81,847.48 L1164.95,847.11 L1166.09,846.74 L1167.23,846.37 L1168.37,846.01 L1169.51,845.65 L1170.65,845.29 L1171.80,844.93 L1172.94,844.57 L1174.09,844.22 L1175.24,843.87 L1176.39,843.52 L1177.54,843.17 L1178.69,842.83 L1179.84,842.49 L1180.99,842.14 L1182.14,841.81 L1183.30,841.47 L1184.45,841.14 L1185.61,840.81 L1186.77,840.48 L1187.92,840.15 L1189.08,839.83 L1190.24,839.51 L1191.40,839.19 L1192.56,838.87 L1193.73,838.55 L1194.89,838.24 L1196.05,837.93 L1197.22,837.63 L1198.38,837.32 L1199.55,837.02 L1200.72,836.72 L1201.88,836.42 L1203.05,836.13 L1204.22,835.83 L1205.39,835.54 L1206.56,835.26 L1207.73,834.97 L1208.91,834.69 L1210.08,834.41 L1211.25,834.13 L1212.42,833.86 L1213.60,833.59 L1214.77,833.32 L1215.95,833.05 L1217.13,832.79 L1218.30,832.53 L1219.48,832.27 L1220.66,832.01 L1221.84,831.76 L1223.02,831.51 L1224.20,831.26 L1225.38,831.01 L1226.56,830.77 L1227.74,830.53 L1228.92,830.30 L1230.10,830.06 L1231.29,829.83 L1232.47,829.60 L1233.65,829.38 L1234.84,829.16 L1236.02,828.94 L1237.21,828.72 L1238.39,828.51 L1239.58,828.30 L1240.77,828.09 L1241.95,827.88 L1243.14,827.68 L1244.33,827.48 L1245.52,827.29 L1246.70,827.09 L1247.89,826.90 L1249.08,826.72 L1250.27,826.53 L1251.46,826.35 L1252.65,826.17 L1253.84,826.00 L1255.03,825.83 L1256.22,825.66 L1257.41,825.49 L1258.60,825.33 L1259.79,825.17 L1260.98,825.01 L1262.18,824.86 L1263.37,824.71 L1264.56,824.56 L1265.75,824.42 L1266.94,824.28 L1268.14,824.14 L1269.33,824.01 L1270.52,823.88 L1271.72,823.75 L1272.91,823.63 L1274.10,823.51 L1275.29,823.39 L1276.49,823.28 L1277.68,823.16 L1278.87,823.06 L1280.07,822.95 L1281.26,822.85 L1282.45,822.76 L1283.65,822.66 L1284.84,822.57 L1286.03,822.48 L1287.23,822.40 L1288.42,822.32 L1289.61,822.24 L1290.81,822.17 L1292.00,822.10" stroke="#000000"/>
<path d="M113.75,818.20 L114.99,818.24 L116.22,818.27 L117.46,818.29 L118.70,818.30 L119.93,818.30 L121.17,818.29 L122.40,818.26 L123.63,818.23 L124.86,818.19 L126.10,818.14 L127.33,818.08 L128.56,818.01 L129.79,817.93 L131.02,817.85 L132.25,817.75 L133.48,817.65 L134.70,817.54 L135.93,817.43 L137.16,817.31 L138.39,817.18 L139.61,817.05 L140.84,816.91 L142.06,816.77 L143.29,816.62 L144.51,816.47 L145.74,816.31 L146.96,816.15 L148.18,815.99 L149.41,815.82 L150.63,815.65 L151.85,815.48 L153.07,815.30 L154.30,815.12 L155.52,814.94 L156.74,814.76 L157.96,814.58 L159.18,814.40 L160.40,814.21 L161.62,814.03 L162.84,813.85 L164.06,813.66 L165.28,813.48 L166.50,813.30 L166.50,813.30 L167.70,812.97 L168.90,812.65 L170.10,812.33 L171.29,812.02 L172.49,811.71 L173.68,811.40 L174.87,811.09 L176.06,810.79 L177.24,810.49 L178.43,810.19 L179.61,809.89 L180.79,809.60 L181.97,809.31 L183.14,809.02 L184.32,808.74 L185.49,808.46 L186.66,808.18 L187.83,807.90 L189.00,807.62 L190.17,807.35 L191.34,807.08 L192.50,806.81 L193.66,806.54 L194.83,806.27 L195.99,806.01 L197.15,805.74 L198.31,805.48 L199.46,805.22 L200.62,804.96 L201.78,804.71 L202.93,804.45 L204.09,804.19 L205.24,803.94 L206.39,803.69 L207.54,803.44 L208.70,803.18 L209.85,802.93 L211.00,802.68 L212.14,802.44 L213.29,802.19 L214.44,801.94 L215.59,801.69 L216.74,801.45 L217.88,801.20 L219.03,800.95 L220.18,800.71 L221.32,800.46 L222.47,800.21 L223.62,799.97 L224.76,799.72 L225.91,799.48 L227.05,799.23 L228.20,798.98 L229.35,798.73 L230.49,798.49 L231.64,798.24 L232.79,797.99 L233.93,797.74 L235.08,797.49 L236.23,797.24 L237.38,796.99 L238.53,796.73 L239.68,796.48 L240.83,796.22 L241.98,795.96 L243.13,795.71 L244.28,795.45 L245.43,795.19 L246.58,794.92 L247.74,794.66 L248.89,794.39 L250.05,794.13 L251.21,793.86 L252.36,793.59 L253.52,793.31 L254.68,793.04 L255.84,792.76 L257.01,792.48 L258.17,792.20 L259.33,791.92 L260.50,791.63 L261.67,791.34 L262.84,791.05 L264.01,790.76 L265.18,790.46 L266.35,790.16 L267.53,789.86 L268.70,789.56 L269.88,789.25 L271.06,788.94 L272.24,788.63 L273.42,788.31 L274.61,787.99 L275.79,787.67 L276.98,787.34 L278.17,787.01 L279.35,786.68 L280.54,786.34 L281.73,786.00 L282.92,785.65 L284.11,785.31 L285.29,784.95 L286.48,784.60 L287.67,784.24 L288.86,783.88 L290.05,783.51 L291.23,783.14 L292.42,782.76 L293.61,782.38 L294.79,782.00 L295.97,781.61 L297.15,781.22 L298.33,780.82 L299.51,780.42 L300.69,780.01 L301.87,779.60 L303.04,779.18 L304.21,778.76 L305.38,778.34 L306.55,777.91 L307.71,777.47 L308.87,777.03 L310.03,776.58 L311.19,776.13 L312.34,775.68 L313.49,775.22 L314.63,774.75 L315.78,774.28 L316.92,773.80 L318.05,773.32 L319.19,772.83 L320.31,772.33 L321.44,771.83 L322.56,771.33 L323.67,770.82 L324.78,770.30 L325.89,769.78 L326.99,769.25 L328.09,768.71 L329.18,768.17 L330.27,767.62 L331.35,767.07 L332.43,766.50 L333.50,765.94 L334.56,765.36 L335.62,764.78 L336.67,764.20 L337.72,763.60 L338.76,763.00 L339.80,762.40 L340.83,761.78 L341.85,761.16 L342.86,760.53 L343.87,759.90 L344.87,759.26 L345.87,758.61 L346.86,757.95 L347.84,757.29 L348.81,756.61 L349.77,755.94 L350.73,755.25 L351.68,754.56 L352.62,753.85 L353.55,753.15 L354.48,752.43 L355.39,751.70 L356.30,750.97 L357.20,750.23 L358.09,749.48 L358.97,748.73 L359.84,747.96 L360.71,747.19 L361.56,746.41 L362.40,745.62 L363.24,744.82 L364.06,744.01 L364.88,743.20 L365.68,742.38 L366.48,741.54 L367.26,740.70 L368.04,739.85 L368.80,739.00 L369.55,738.13 L370.30,737.25 L371.03,736.37 L371.75,735.47 L372.46,734.57 L373.16,733.66 L373.84,732.74 L374.52,731.81 L375.18,730.86 L375.83,729.91 L376.47,728.96 L377.10,727.99 L377.71,727.01 L378.32,726.02 L378.91,725.02 L379.49,724.02 L380.06,723.01 L380.62,721.98 L381.17,720.95 L381.70,719.91 L382.23,718.87 L382.75,717.81 L383.25,716.75 L383.75,715.68 L384.23,714.61 L384.71,713.53 L385.17,712.44 L385.63,711.34 L386.07,710.24 L386.51,709.13 L386.94,708.02 L387.36,706.90 L387.77,705.78 L388.17,704.65 L388.57,703.51 L388.95,702.37 L389.33,701.23 L389.70,700.08 L390.06,698.92 L390.41,697.77 L390.76,696.61 L391.10,695.44 L391.43,694.27 L391.76,693.10 L392.07,691.92 L392.38,690.75 L392.69,689.57 L392.99,688.38 L393.28,687.20 L393.57,686.01 L393.85,684.82 L394.12,683.63 L394.39,682.43 L394.65,681.24 L394.91,680.04 L395.16,678.85 L395.41,677.65 L395.66,676.45 L395.89,675.25 L396.13,674.05 L396.36,672.85 L396.58,671.65 L396.80,670.46 L397.02,669.26 L397.24,668.06 L397.44,666.86 L397.65,665.66 L397.85,664.46 L398.05,663.26 L398.24,662.06 L398.43,660.87 L398.62,659.67 L398.80,658.47 L398.98,657.27 L399.15,656.07 L399.33,654.87 L399.49,653.67 L399.66,652.47 L399.82,651.28 L399.98,650.08 L400.14,648.88 L400.29,647.68 L400.44,646.48 L400.58,645.28 L400.73,644.08 L400.87,642.89 L401.01,641.69 L401.14,640.49 L401.27,639.29 L401.40,638.09 L401.53,636.89 L401.65,635.69 L401.77,634.50 L401.89,633.30 L402.01,632.10 L402.13,630.90 L402.24,629.70 L402.35,628.50 L402.46,627.30 L402.56,626.11 L402.67,624.91 L402.77,623.71 L402.87,622.51 L402.97,621.31 L403.06,620.11 L403.16,618.91 L403.25,617.72 L403.34,616.52 L403.43,615.32 L403.52,614.12 L403.60,612.92 L403.69,611.72 L403.77,610.52 L403.85,609.33 L403.94,608.13 L404.02,606.93 L404.09,605.73 L404.17,604.53 L404.25,603.33 L404.32,602.13 L404.40,600.94 L404.47,599.74 L404.55,598.54 L404.62,597.34 L404.69,596.14 L404.76,594.94 L404.83,593.74 L404.90,592.54 L404.97,591.35 L405.04,590.15 L405.11,588.95 L405.17,587.75 L405.24,586.55 L405.31,585.35 L405.38,584.15 L405.44,582.95 L405.51,581.75 L405.58,580.56 L405.64,579.36 L405.71,578.16 L405.77,576.96 L405.84,575.76 L405.90,574.56 L405.96,573.36 L406.03,572.16 L406.09,570.96 L406.15,569.76 L406.21,568.56 L406.28,567.36 L406.34,566.17 L406.40,564.97 L406.46,563.77 L406.52,562.57 L406.58,561.37 L406.64,560.17 L406.70,558.97 L406.76,557.77 L406.82,556.57 L406.87,555.37 L406.93,554.17 L406.99,552.97 L407.05,551.77 L407.10,550.57 L407.16,549.37 L407.22,548.17 L407.27,546.97 L407.33,545.77 L407.38,544.58 L407.44,543.38 L407.49,542.18 L407.55,540.98 L407.60,539.78 L407.65,538.58 L407.71,537.38 L407.76,536.18 L407.81,534.98 L407.86,533.78 L407.92,532.58 L407.97,531.38 L408.02,530.18 L408.07,528.98 L408.12,527.78 L408.17,526.58 L408.22,525.38 L408.27,524.18 L408.32,522.98 L408.37,521.78 L408.42,520.58 L408.47,519.38 L408.51,518.18 L408.56,516.98 L408.61,515.78 L408.66,514.58 L408.70,513.38 L408.75,512.18 L408.80,510.98 L408.84,509.78 L408.89,508.58 L408.93,507.38 L408.98,506.18 L409.02,504.98 L409.07,503.78 L409.11,502.58 L409.15,501.38 L409.20,500.18 L409.24,498.98 L409.28,497.78 L409.33,496.58 L409.37,495.38 L409.41,494.18 L409.45,492.98 L409.50,491.77 L409.54,490.57 L409.58,489.37 L409.62,488.17 L409.66,486.97 L409.70,485.77 L409.74,484.57 L409.78,483.37 L409.82,482.17 L409.86,480.97 L409.90,479.77 L409.94,478.57 L409.97,477.37 L410.01,476.17 L410.05,474.97 L410.09,473.77 L410.13,472.57 L410.16,471.37 L410.20,470.17 L410.24,468.97 L410.27,467.76 L410.31,466.56 L410.34,465.36 L410.38,464.16 L410.42,462.96 L410.45,461.76 L410.49,460.56 L410.52,459.36 L410.56,458.16 L410.59,456.96 L410.62,455.76 L410.66,454.56 L410.69,453.36 L410.72,452.15 L410.76,450.95 L410.79,449.75 L410.82,448.55 L410.85,447.35 L410.89,446.15 L410.92,444.95 L410.95,443.75 L410.98,442.55 L411.01,441.35 L411.04,440.15 L411.07,438.94 L411.11,437.74 L411.14,436.54 L411.17,435.34 L411.20,434.14 L411.23,432.94 L411.25,431.74 L411.28,430.54 L411.31,429.34 L411.34,428.14 L411.37,426.93 L411.40,425.73 L411.43,424.53 L411.46,423.33 L411.48,422.13 L411.51,420.93 L411.54,419.73 L411.57,418.53 L411.59,417.33 L411.62,416.12 L411.65,414.92 L411.67,413.72 L411.70,412.52 L411.73,411.32 L411.75,410.12 L411.78,408.92 L411.80,407.72 L411.83,406.51 L411.85,405.31 L411.88,404.11 L411.90,402.91 L411.93,401.71 L411.95,400.51 L411.98,399.31 L412.00,398.11 L412.03,396.90 L412.05,395.70 L412.07,394.50 L412.10,393.30 L412.12,392.10 L412.14,390.90 L412.17,389.70 L412.19,388.49 L412.21,387.29 L412.23,386.09 L412.26,384.89 L412.28,383.69 L412.30,382.49 L412.32,381.29 L412.34,380.08 L412.37,378.88 L412.39,377.68 L412.41,376.48 L412.43,375.28 L412.45,374.08 L412.47,372.87 L412.49,371.67 L412.51,370.47 L412.53,369.27 L412.55,368.07 L412.57,366.87 L412.59,365.67 L412.61,364.46 L412.63,363.26 L412.65,362.06 L412.67,360.86 L412.69,359.66 L412.71,358.46 L412.73,357.25 L412.75,356.05 L412.77,354.85 L412.79,353.65 L412.81,352.45 L412.83,351.25 L412.84,350.04 L412.86,348.84 L412.88,347.64 L412.90,346.44 L412.92,345.24 L412.93,344.04 L412.95,342.83 L412.97,341.63 L412.99,340.43 L413.01,339.23 L413.02,338.03 L413.04,336.83 L413.06,335.62 L413.07,334.42 L413.09,333.22 L413.11,332.02 L413.12,330.82 L413.14,329.61 L413.16,328.41 L413.17,327.21 L413.19,326.01 L413.21,324.81 L413.22,323.61 L413.24,322.40 L413.26,321.20 L413.27,320.00 L413.29,318.80 L413.30,317.60 L413.32,316.39 L413.33,315.19 L413.35,313.99 L413.37,312.79 L413.38,311.59 L413.40,310.39 L413.41,309.18 L413.43,307.98 L413.44,306.78 L413.46,305.58 L413.47,304.38 L413.49,303.17 L413.50,301.97 L413.52,300.77 L413.53,299.57 L413.55,298.37 L413.56,297.16 L413.58,295.96 L413.59,294.76 L413.60,293.56 L413.62,292.36 L413.63,291.16 L413.65,289.95 L413.66,288.75 L413.68,287.55 L413.69,286.35 L413.70,285.15 L413.72,283.94 L413.73,282.74 L413.75,281.54 L413.76,280.34 L413.77,279.14 L413.79,277.93 L413.80,276.73 L413.82,275.53 L413.83,274.33 L413.84,273.13 L413.86,271.92 L413.87,270.72 L413.88,269.52 L413.90,268.32 L413.91,267.12 L413.93,265.91 L413.94,264.71 L413.95,263.51 L413.97,262.31 L413.98,261.11 L413.99,259.90 L414.01,258.70 L414.02,257.50 L414.03,256.30 L414.05,255.10 L414.06,253.89 L414.07,252.69 L414.09,251.49 L414.10,250.29 L414.12,249.09 L414.13,247.88 L414.14,246.68 L414.16,245.48 L414.17,244.28 L414.18,243.08 L414.20,241.87 L414.21,240.67 L414.22,239.47 L414.24,238.27 L414.25,237.07 L414.26,235.86 L414.28,234.66 L414.29,233.46 L414.30,232.26 L414.32,231.06 L414.33,229.85 L414.34,228.65 L414.36,227.45 L414.37,226.25 L414.39,225.05 L414.40,223.84 L414.41,222.64 L414.43,221.44 L414.44,220.24 L414.45,219.04 L414.47,217.83 L414.48,216.63 L414.50,215.43 L414.51,214.23 L414.52,213.03 L414.54,211.82 L414.55,210.62 L414.57,209.42 L414.58,208.22 L414.59,207.02 L414.61,205.81 L414.62,204.61 L414.64,203.41 L414.65,202.21 L414.67,201.01 L414.68,199.80 L414.70,198.60 L414.71,197.40 L414.73,196.20 L414.74,195.00 L414.75,193.79 L414.77,192.59 L414.78,191.39 L414.80,190.19 L414.81,188.99 L414.83,187.78 L414.84,186.58 L414.86,185.38 L414.88,184.18 L414.89,182.98 L414.91,181.77 L414.92,180.57 L414.94,179.37 L414.95,178.17 L414.97,176.97 L414.98,175.77 L415.00,174.56 L415.02,173.36 L415.03,172.16 L415.05,170.96 L415.07,169.76 L415.08,168.55 L415.10,167.35 L415.11,166.15 L415.13,164.95 L415.15,163.75 L415.16,162.54 L415.18,161.34 L415.20,160.14 L415.22,158.94 L415.23,157.74 L415.25,156.54 L415.27,155.33 L415.29,154.13 L415.30,152.93 L415.32,151.73 L415.34,150.53 L415.36,149.32 L415.37,148.12 L415.39,146.92 L415.41,145.72 L415.43,144.52 L415.45,143.32 L415.47,142.11 L415.49,140.91 L415.50,139.71 L415.52,138.51 L415.54,137.31 L415.56,136.10 L415.58,134.90 L415.60,133.70 L415.62,132.50 L415.64,131.30 L415.66,130.10 L415.68,128.89 L415.70,127.69 L415.72,126.49 L415.74,125.29 L415.76,124.09 L415.78,122.89 L415.80,121.68 L415.82,120.48 L415.84,119.28 L415.87,118.08 L415.89,116.88 L415.91,115.68 L415.93,114.47 L415.95,113.27 L415.97,112.07 L416.00,110.87 L416.02,109.67 L416.04,108.47 L416.06,107.26 L416.09,106.06 L416.11,104.86 L416.13,103.66 L416.16,102.46 L416.18,101.26 L416.20,100.05 L416.23,98.85 L416.25,97.65 L416.28,96.45 L416.30,95.25 L416.32,94.05 L416.35,92.85 L416.37,91.64 L416.40,90.44 L416.42,89.24 L416.45,88.04 L416.47,86.84 L416.50,85.64 L416.53,84.44 L416.55,83.23 L416.58,82.03 L416.61,80.83 L416.63,79.63 L416.66,78.43 L416.69,77.23 L416.71,76.03 L416.74,74.82 L416.77,73.62 L416.80,72.42 L416.82,71.22 L416.85,70.02 L416.88,68.82 L416.91,67.62 L416.94,66.41 L416.97,65.21 L417.00,64.01 L417.03,62.81 L417.06,61.61 L417.09,60.41 L417.12,59.21 L417.15,58.01 L417.18,56.80 L417.21,55.60 L417.24,54.40 L417.27,53.20 L417.30,52.00 L417.30,52.00 L417.32,53.20 L417.34,54.40 L417.36,55.61 L417.38,56.81 L417.40,58.01 L417.42,59.21 L417.44,60.41 L417.46,61.61 L417.48,62.82 L417.50,64.02 L417.52,65.22 L417.54,66.42 L417.56,67.62 L417.57,68.82 L417.59,70.03 L417.61,71.23 L417.63,72.43 L417.65,73.63 L417.67,74.83 L417.68,76.03 L417.70,77.24 L417.72,78.44 L417.74,79.64 L417.75,80.84 L417.77,82.04 L417.79,83.24 L417.81,84.45 L417.82,85.65 L417.84,86.85 L417.86,88.05 L417.87,89.25 L417.89,90.45 L417.91,91.65 L417.92,92.86 L417.94,94.06 L417.95,95.26 L417.97,96.46 L417.99,97.66 L418.00,98.86 L418.02,100.06 L418.03,101.27 L418.05,102.47 L418.06,103.67 L418.08,104.87 L418.09,106.07 L418.11,107.27 L418.12,108.47 L418.14,109.68 L418.15,110.88 L418.17,112.08 L418.18,113.28 L418.20,114.48 L418.21,115.68 L418.22,116.88 L418.24,118.08 L418.25,119.29 L418.26,120.49 L418.28,121.69 L418.29,122.89 L418.30,124.09 L418.32,125.29 L418.33,126.49 L418.34,127.69 L418.36,128.89 L418.37,130.10 L418.38,131.30 L418.40,132.50 L418.41,133.70 L418.42,134.90 L418.43,136.10 L418.44,137.30 L418.46,138.50 L418.47,139.70 L418.48,140.91 L418.49,142.11 L418.50,143.31 L418.52,144.51 L418.53,145.71 L418.54,146.91 L418.55,148.11 L418.56,149.31 L418.57,150.51 L418.58,151.71 L418.59,152.92 L418.61,154.12 L418.62,155.32 L418.63,156.52 L418.64,157.72 L418.65,158.92 L418.66,160.12 L418.67,161.32 L418.68,162.52 L418.69,163.72 L418.70,164.92 L418.71,166.13 L418.72,167.33 L418.73,168.53 L418.74,169.73 L418.75,170.93 L418.76,172.13 L418.77,173.33 L418.78,174.53 L418.78,175.73 L418.79,176.93 L418.80,178.13 L418.81,179.34 L418.82,180.54 L418.83,181.74 L418.84,182.94 L418.85,184.14 L418.86,185.34 L418.86,186.54 L418.87,187.74 L418.88,188.94 L418.89,190.14 L418.90,191.34 L418.90,192.54 L418.91,193.74 L418.92,194.95 L418.93,196.15 L418.94,197.35 L418.94,198.55 L418.95,199.75 L418.96,200.95 L418.97,202.15 L418.97,203.35 L418.98,204.55 L418.99,205.75 L419.00,206.95 L419.00,208.15 L419.01,209.35 L419.02,210.56 L419.02,211.76 L419.03,212.96 L419.04,214.16 L419.04,215.36 L419.05,216.56 L419.06,217.76 L419.06,218.96 L419.07,220.16 L419.08,221.36 L419.08,222.56 L419.09,223.76 L419.10,224.96 L419.10,226.16 L419.11,227.36 L419.11,228.57 L419.12,229.77 L419.12,230.97 L419.13,232.17 L419.14,233.37 L419.14,234.57 L419.15,235.77 L419.15,236.97 L419.16,238.17 L419.16,239.37 L419.17,240.57 L419.17,241.77 L419.18,242.97 L419.19,244.17 L419.19,245.37 L419.20,246.57 L419.20,247.78 L419.21,248.98 L419.21,250.18 L419.21,251.38 L419.22,252.58 L419.22,253.78 L419.23,254.98 L419.23,256.18 L419.24,257.38 L419.24,258.58 L419.25,259.78 L419.25,260.98 L419.26,262.18 L419.26,263.38 L419.26,264.58 L419.27,265.78 L419.27,266.98 L419.28,268.19 L419.28,269.39 L419.29,270.59 L419.29,271.79 L419.29,272.99 L419.30,274.19 L419.30,275.39 L419.30,276.59 L419.31,277.79 L419.31,278.99 L419.32,280.19 L419.32,281.39 L419.32,282.59 L419.33,283.79 L419.33,284.99 L419.33,286.19 L419.34,287.39 L419.34,288.60 L419.34,289.80 L419.35,291.00 L419.35,292.20 L419.35,293.40 L419.36,294.60 L419.36,295.80 L419.36,297.00 L419.37,298.20 L419.37,299.40 L419.37,300.60 L419.38,301.80 L419.38,303.00 L419.38,304.20 L419.38,305.40 L419.39,306.60 L419.39,307.80 L419.39,309.01 L419.40,310.21 L419.40,311.41 L419.40,312.61 L419.40,313.81 L419.41,315.01 L419.41,316.21 L419.41,317.41 L419.41,318.61 L419.42,319.81 L419.42,321.01 L419.42,322.21 L419.42,323.41 L419.43,324.61 L419.43,325.81 L419.43,327.01 L419.43,328.22 L419.44,329.42 L419.44,330.62 L419.44,331.82 L419.44,333.02 L419.45,334.22 L419.45,335.42 L419.45,336.62 L419.45,337.82 L419.45,339.02 L419.46,340.22 L419.46,341.42 L419.46,342.62 L419.46,343.82 L419.47,345.02 L419.47,346.23 L419.47,347.43 L419.47,348.63 L419.47,349.83 L419.48,351.03 L419.48,352.23 L419.48,353.43 L419.48,354.63 L419.48,355.83 L419.49,357.03 L419.49,358.23 L419.49,359.43 L419.49,360.63 L419.49,361.83 L419.50,363.04 L419.50,364.24 L419.50,365.44 L419.50,366.64 L419.50,367.84 L419.50,369.04 L419.51,370.24 L419.51,371.44 L419.51,372.64 L419.51,373.84 L419.51,375.04 L419.52,376.24 L419.52,377.44 L419.52,378.65 L419.52,379.85 L419.52,381.05 L419.52,382.25 L419.53,383.45 L419.53,384.65 L419.53,385.85 L419.53,387.05 L419.53,388.25 L419.54,389.45 L419.54,390.65 L419.54,391.86 L419.54,393.06 L419.54,394.26 L419.55,395.46 L419.55,396.66 L419.55,397.86 L419.55,399.06 L419.55,400.26 L419.55,401.46 L419.56,402.66 L419.56,403.86 L419.56,405.07 L419.56,406.27 L419.56,407.47 L419.57,408.67 L419.57,409.87 L419.57,411.07 L419.57,412.27 L419.57,413.47 L419.58,414.67 L419.58,415.87 L419.58,417.08 L419.58,418.28 L419.58,419.48 L419.59,420.68 L419.59,421.88 L419.59,423.08 L419.59,424.28 L419.60,425.48 L419.60,426.68 L419.60,427.89 L419.60,429.09 L419.60,430.29 L419.61,431.49 L419.61,432.69 L419.61,433.89 L419.61,435.09 L419.62,436.29 L419.62,437.50 L419.62,438.70 L419.62,439.90 L419.62,441.10 L419.63,442.30 L419.63,443.50 L419.63,444.70 L419.63,445.90 L419.64,447.11 L419.64,448.31 L419.64,449.51 L419.64,450.71 L419.65,451.91 L419.65,453.11 L419.65,454.31 L419.66,455.51 L419.66,456.72 L419.66,457.92 L419.66,459.12 L419.67,460.32 L419.67,461.52 L419.67,462.72 L419.68,463.92 L419.68,465.13 L419.68,466.33 L419.68,467.53 L419.69,468.73 L419.69,469.93 L419.69,471.13 L419.70,472.33 L419.70,473.54 L419.70,474.74 L419.71,475.94 L419.71,477.14 L419.71,478.34 L419.72,479.54 L419.72,480.75 L419.72,481.95 L419.73,483.15 L419.73,484.35 L419.73,485.55 L419.74,486.75 L419.74,487.96 L419.75,489.16 L419.75,490.36 L419.75,491.56 L419.76,492.76 L419.76,493.96 L419.76,495.17 L419.77,496.37 L419.77,497.57 L419.78,498.77 L419.78,499.97 L419.79,501.17 L419.79,502.38 L419.79,503.58 L419.80,504.78 L419.80,505.98 L419.81,507.18 L419.81,508.39 L419.82,509.59 L419.82,510.79 L419.83,511.99 L419.83,513.19 L419.83,514.40 L419.84,515.60 L419.84,516.80 L419.85,518.00 L419.85,519.20 L419.86,520.41 L419.86,521.61 L419.87,522.81 L419.87,524.01 L419.88,525.21 L419.88,526.42 L419.89,527.62 L419.90,528.82 L419.90,530.02 L419.91,531.22 L419.91,532.43 L419.92,533.63 L419.92,534.83 L419.93,536.03 L419.94,537.24 L419.94,538.44 L419.95,539.64 L419.95,540.84 L419.96,542.05 L419.97,543.25 L419.97,544.45 L419.98,545.65 L419.98,546.85 L419.99,548.06 L420.00,549.26 L420.00,550.46 L420.01,551.66 L420.02,552.87 L420.02,554.07 L420.03,555.27 L420.04,556.47 L420.04,557.68 L420.05,558.88 L420.06,560.08 L420.07,561.28 L420.07,562.49 L420.08,563.69 L420.09,564.89 L420.10,566.09 L420.10,567.30 L420.11,568.50 L420.12,569.70 L420.13,570.91 L420.13,572.11 L420.14,573.31 L420.15,574.51 L420.16,575.72 L420.16,576.92 L420.17,578.12 L420.18,579.32 L420.19,580.53 L420.20,581.73 L420.20,582.93 L420.21,584.13 L420.22,585.34 L420.23,586.54 L420.24,587.74 L420.24,588.94 L420.25,590.15 L420.26,591.35 L420.27,592.55 L420.28,593.75 L420.29,594.95 L420.29,596.16 L420.30,597.36 L420.31,598.56 L420.32,599.76 L420.33,600.97 L420.33,602.17 L420.34,603.37 L420.35,604.57 L420.36,605.77 L420.37,606.97 L420.37,608.18 L420.38,609.38 L420.39,610.58 L420.40,611.78 L420.40,612.98 L420.41,614.18 L420.42,615.38 L420.43,616.59 L420.43,617.79 L420.44,618.99 L420.45,620.19 L420.46,621.39 L420.46,622.59 L420.47,623.79 L420.48,624.99 L420.49,626.19 L420.49,627.39 L420.50,628.59 L420.51,629.79 L420.51,630.99 L420.52,632.19 L420.53,633.39 L420.53,634.59 L420.54,635.79 L420.54,636.99 L420.55,638.19 L420.56,639.39 L420.56,640.59 L420.57,641.79 L420.57,642.99 L420.58,644.19 L420.58,645.39 L420.59,646.58 L420.60,647.78 L420.60,648.98 L420.61,650.18 L420.61,651.38 L420.61,652.57 L420.62,653.77 L420.62,654.97 L420.63,656.17 L420.63,657.36 L420.64,658.56 L420.64,659.76 L420.64,660.96 L420.65,662.15 L420.65,663.35 L420.65,664.55 L420.66,665.74 L420.66,666.94 L420.66,668.13 L420.66,669.33 L420.67,670.53 L420.67,671.72 L420.67,672.92 L420.67,674.11 L420.68,675.31 L420.68,676.50 L420.68,677.70 L420.69,678.89 L420.70,680.09 L420.70,681.28 L420.71,682.47 L420.72,683.67 L420.74,684.86 L420.75,686.06 L420.77,687.25 L420.79,688.45 L420.81,689.64 L420.83,690.83 L420.86,692.03 L420.89,693.22 L420.92,694.42 L420.96,695.61 L421.00,696.81 L421.04,698.00 L421.09,699.20 L421.14,700.39 L421.19,701.59 L421.25,702.78 L421.32,703.98 L421.39,705.17 L421.46,706.37 L421.54,707.56 L421.62,708.76 L421.71,709.95 L421.81,711.15 L421.91,712.35 L422.02,713.54 L422.13,714.74 L422.25,715.94 L422.37,717.13 L422.51,718.33 L422.65,719.53 L422.79,720.73 L422.94,721.93 L423.10,723.13 L423.27,724.32 L423.44,725.52 L423.62,726.72 L423.81,727.92 L424.01,729.12 L424.21,730.32 L424.42,731.53 L424.64,732.73 L424.86,733.93 L425.09,735.13 L425.33,736.33 L425.58,737.54 L425.83,738.74 L426.09,739.95 L426.37,741.15 L426.65,742.35 L426.94,743.55 L427.24,744.75 L427.55,745.94 L427.87,747.13 L428.21,748.31 L428.56,749.49 L428.92,750.66 L429.30,751.82 L429.69,752.97 L430.10,754.12 L430.53,755.25 L430.97,756.38 L431.43,757.49 L431.91,758.59 L432.40,759.68 L432.92,760.75 L433.46,761.81 L434.01,762.86 L434.58,763.89 L435.18,764.90 L435.79,765.90 L436.43,766.88 L437.08,767.85 L437.75,768.79 L438.44,769.72 L439.15,770.63 L439.89,771.51 L440.64,772.38 L441.41,773.23 L442.20,774.06 L443.01,774.86 L443.85,775.64 L444.70,776.40 L445.57,777.13 L446.46,777.84 L447.38,778.53 L448.31,779.19 L449.26,779.83 L450.24,780.43 L451.23,781.02 L452.25,781.57 L453.28,782.10 L454.34,782.61 L455.41,783.09 L456.49,783.55 L457.59,783.98 L458.70,784.40 L459.83,784.80 L460.97,785.18 L462.12,785.55 L463.28,785.90 L464.44,786.23 L465.62,786.55 L466.80,786.86 L467.99,787.15 L469.18,787.44 L470.37,787.72 L471.57,787.99 L472.77,788.25 L473.96,788.50 L475.16,788.75 L476.36,789.00 L477.56,789.24 L478.75,789.47 L479.95,789.71 L481.15,789.93 L482.34,790.15 L483.54,790.37 L484.73,790.58 L485.93,790.79 L487.12,790.99 L488.32,791.19 L489.51,791.39 L490.71,791.58 L491.90,791.77 L493.09,791.96 L494.29,792.14 L495.48,792.32 L496.67,792.49 L497.87,792.66 L499.06,792.83 L500.25,793.00 L501.45,793.16 L502.64,793.32 L503.83,793.47 L505.03,793.63 L506.22,793.78 L507.41,793.93 L508.60,794.08 L509.80,794.22 L510.99,794.37 L512.18,794.51 L513.38,794.65 L514.57,794.78 L515.76,794.92 L516.96,795.05 L518.15,795.18 L519.35,795.31 L520.54,795.44 L521.73,795.57 L522.93,795.69 L524.12,795.81 L525.32,795.93 L526.51,796.05 L527.70,796.17 L528.90,796.29 L530.09,796.41 L531.29,796.52 L532.48,796.63 L533.68,796.74 L534.87,796.85 L536.07,796.96 L537.26,797.07 L538.46,797.18 L539.65,797.28 L540.85,797.38 L542.04,797.49 L543.24,797.59 L544.43,797.69 L545.63,797.79 L546.83,797.89 L548.02,797.99 L549.22,798.08 L550.41,798.18 L551.61,798.28 L552.80,798.37 L554.00,798.46 L555.20,798.56 L556.39,798.65 L557.59,798.74 L558.78,798.84 L559.98,798.93 L561.18,799.02 L562.37,799.11 L563.57,799.20 L564.77,799.29 L565.96,799.38 L567.16,799.46 L568.36,799.55 L569.55,799.64 L570.75,799.73 L571.95,799.82 L573.14,799.90 L574.34,799.99 L575.54,800.08 L576.73,800.17 L577.93,800.25 L579.13,800.34 L580.32,800.43 L581.52,800.52 L582.72,800.61 L583.92,800.69 L585.11,800.78 L586.31,800.87 L587.51,800.96 L588.70,801.05 L589.90,801.14 L591.10,801.23 L592.30,801.31 L593.49,801.40 L594.69,801.49 L595.89,801.58 L597.09,801.67 L598.28,801.76 L599.48,801.85 L600.68,801.94 L601.88,802.03 L603.07,802.12 L604.27,802.21 L605.47,802.30 L606.67,802.39 L607.86,802.47 L609.06,802.56 L610.26,802.65 L611.46,802.74 L612.65,802.83 L613.85,802.92 L615.05,803.01 L616.25,803.10 L617.45,803.19 L618.64,803.28 L619.84,803.37 L621.04,803.46 L622.24,803.55 L623.44,803.64 L624.63,803.72 L625.83,803.81 L627.03,803.90 L628.23,803.99 L629.43,804.08 L630.62,804.17 L631.82,804.26 L633.02,804.34 L634.22,804.43 L635.42,804.52 L636.61,804.61 L637.81,804.70 L639.01,804.78 L640.21,804.87 L641.41,804.96 L642.61,805.05 L643.80,805.13 L645.00,805.22 L646.20,805.31 L647.40,805.39 L648.60,805.48 L649.80,805.57 L650.99,805.65 L652.19,805.74 L653.39,805.82 L654.59,805.91 L655.79,805.99 L656.99,806.08 L658.19,806.16 L659.38,806.25 L660.58,806.33 L661.78,806.41 L662.98,806.50 L664.18,806.58 L665.38,806.66 L666.58,806.75 L667.77,806.83 L668.97,806.91 L670.17,806.99 L671.37,807.07 L672.57,807.15 L673.77,807.24 L674.97,807.32 L676.16,807.40 L677.36,807.48 L678.56,807.56 L679.76,807.64 L680.96,807.72 L682.16,807.80 L683.36,807.87 L684.56,807.95 L685.75,808.03 L686.95,808.11 L688.15,808.19 L689.35,808.26 L690.55,808.34 L691.75,808.42 L692.95,808.49 L694.15,808.57 L695.34,808.65 L696.54,808.72 L697.74,808.80 L698.94,808.87 L700.14,808.95 L701.34,809.02 L702.54,809.10 L703.74,809.17 L704.94,809.24 L706.13,809.32 L707.33,809.39 L708.53,809.46 L709.73,809.54 L710.93,809.61 L712.13,809.68 L713.33,809.75 L714.53,809.82 L715.73,809.89 L716.93,809.96 L718.12,810.03 L719.32,810.10 L720.52,810.17 L721.72,810.24 L722.92,810.31 L724.12,810.38 L725.32,810.45 L726.52,810.52 L727.72,810.59 L728.92,810.65 L730.12,810.72 L731.31,810.79 L732.51,810.85 L733.71,810.92 L734.91,810.99 L736.11,811.05 L737.31,811.12 L738.51,811.18 L739.71,811.25 L740.91,811.31 L742.11,811.38 L743.31,811.44 L744.51,811.50 L745.71,811.57 L746.91,811.63 L748.10,811.69 L749.30,811.75 L750.50,811.82 L751.70,811.88 L752.90,811.94 L754.10,812.00 L755.30,812.06 L756.50,812.12 L757.70,812.18 L758.90,812.24 L760.10,812.30 L761.30,812.36 L762.50,812.41 L763.70,812.47 L764.90,812.53 L766.10,812.59 L767.30,812.64 L768.50,812.70 L769.70,812.76 L770.90,812.81 L772.09,812.87 L773.29,812.92 L774.49,812.98 L775.69,813.03 L776.89,813.09 L778.09,813.14 L779.29,813.19 L780.49,813.25 L781.69,813.30 L782.89,813.35 L784.09,813.41 L785.29,813.46 L786.49,813.51 L787.69,813.56 L788.89,813.61 L790.09,813.66 L791.29,813.71 L792.49,813.76 L793.69,813.81 L794.89,813.86 L796.09,813.91 L797.29,813.95 L798.49,814.00 L799.69,814.05 L800.89,814.10 L802.09,814.14 L803.29,814.19 L804.49,814.23 L805.69,814.28 L806.89,814.32 L808.09,814.37 L809.29,814.41 L810.49,814.46 L811.69,814.50 L812.89,814.54 L814.09,814.59 L815.29,814.63 L816.49,814.67 L817.69,814.71 L818.89,814.75 L820.09,814.79 L821.29,814.84 L822.49,814.88 L823.69,814.91 L824.89,814.95 L826.09,814.99 L827.29,815.03 L828.49,815.07 L829.69,815.11 L830.89,815.14 L832.09,815.18 L833.29,815.22 L834.49,815.25 L835.70,815.29 L836.90,815.32 L838.10,815.36 L839.30,815.39 L840.50,815.43 L841.70,815.46 L842.90,815.50 L844.10,815.53 L845.30,815.56 L846.50,815.59 L847.70,815.62 L848.90,815.66 L850.10,815.69 L851.30,815.72 L852.50,815.75 L853.70,815.78 L854.90,815.81 L856.10,815.83 L857.30,815.86 L858.51,815.89 L859.71,815.92 L860.91,815.94 L862.11,815.97 L863.31,816.00 L864.51,816.02 L865.71,816.05 L866.91,816.07 L868.11,816.10 L869.31,816.12 L870.51,816.15 L871.71,816.17 L872.91,816.19 L874.12,816.21 L875.32,816.24 L876.52,816.26 L877.72,816.28 L878.92,816.30 L880.12,816.32 L881.32,816.34 L882.52,816.36 L883.72,816.38 L884.92,816.40 L886.13,816.41 L887.33,816.43 L888.53,816.45 L889.73,816.47 L890.93,816.48 L892.13,816.50 L893.33,816.51 L894.53,816.53 L895.73,816.54 L896.94,816.56 L898.14,816.57 L899.34,816.58 L900.54,816.60 L901.74,816.61 L902.94,816.62 L904.14,816.63 L905.34,816.64 L906.55,816.65 L907.75,816.66 L908.95,816.67 L910.15,816.68 L911.35,816.69 L912.55,816.70 L913.75,816.70 L914.96,816.71 L916.16,816.72 L917.36,816.72 L918.56,816.73 L919.76,816.74 L920.96,816.74 L922.16,816.74 L923.37,816.75 L924.57,816.75 L925.77,816.75 L926.97,816.76 L928.17,816.76 L929.37,816.76 L930.58,816.76 L931.78,816.76 L932.98,816.76 L934.18,816.76 L935.38,816.76 L936.58,816.76 L937.79,816.76 L938.99,816.75 L940.19,816.75 L941.39,816.75 L942.59,816.74 L943.79,816.74 L945.00,816.74 L946.20,816.73 L947.40,816.73 L948.60,816.73 L949.80,816.73 L951.01,816.73 L952.21,816.73 L953.41,816.73 L954.61,816.73 L955.81,816.73 L957.02,816.74 L958.22,816.75 L959.42,816.76 L960.62,816.77 L961.83,816.78 L963.03,816.80 L964.23,816.82 L965.43,816.84 L966.63,816.87 L967.84,816.89 L969.04,816.93 L970.24,816.96 L971.44,817.00 L972.65,817.04 L973.85,817.09 L975.05,817.14 L976.25,817.20 L977.46,817.25 L978.66,817.32 L979.86,817.39 L981.06,817.46 L982.27,817.54 L983.47,817.63 L984.67,817.72 L985.87,817.81 L987.08,817.92 L988.28,818.03 L989.48,818.14 L990.67,818.27 L991.87,818.41 L993.07,818.55 L994.26,818.71 L995.45,818.87 L996.63,819.05 L997.81,819.24 L998.99,819.44 L1000.17,819.65 L1001.34,819.88 L1002.50,820.12 L1003.67,820.38 L1004.82,820.65 L1005.97,820.93 L1007.12,821.24 L1008.26,821.56 L1009.39,821.89 L1010.51,822.25 L1011.63,822.62 L1012.75,823.01 L1013.85,823.43 L1014.95,823.86 L1016.03,824.31 L1017.11,824.79 L1018.18,825.28 L1019.25,825.79 L1020.31,826.33 L1021.36,826.87 L1022.40,827.44 L1023.44,828.02 L1024.47,828.61 L1025.50,829.21 L1026.53,829.83 L1027.55,830.45 L1028.57,831.09 L1029.59,831.73 L1030.61,832.38 L1031.63,833.03 L1032.64,833.69 L1033.66,834.35 L1034.67,835.01 L1035.69,835.67 L1036.70,836.34 L1037.72,837.00 L1038.75,837.65 L1039.77,838.31 L1040.80,838.96 L1041.83,839.60 L1042.87,840.24 L1043.92,840.86 L1044.96,841.48 L1046.02,842.09 L1047.08,842.68 L1048.15,843.26 L1049.23,843.83 L1050.31,844.38 L1051.41,844.92 L1052.51,845.45 L1053.61,845.96 L1054.72,846.45 L1055.84,846.93 L1056.97,847.39 L1058.10,847.84 L1059.23,848.28 L1060.37,848.70 L1061.52,849.10 L1062.67,849.49 L1063.82,849.87 L1064.97,850.22 L1066.13,850.57 L1067.29,850.90 L1068.46,851.21 L1069.62,851.51 L1070.79,851.80 L1071.96,852.06 L1073.13,852.32 L1074.30,852.56 L1075.47,852.78 L1076.65,852.99 L1077.82,853.18 L1078.99,853.36 L1080.17,853.52 L1081.34,853.68 L1082.52,853.81 L1083.70,853.94 L1084.87,854.05 L1086.05,854.14 L1087.23,854.23 L1088.41,854.30 L1089.59,854.36 L1090.77,854.41 L1091.95,854.44 L1093.13,854.47 L1094.31,854.48 L1095.49,854.48 L1096.68,854.47 L1097.86,854.45 L1099.04,854.41 L1100.22,854.37 L1101.41,854.32 L1102.59,854.25 L1103.78,854.18 L1104.96,854.10 L1106.15,854.01 L1107.33,853.91 L1108.52,853.80 L1109.71,853.68 L1110.89,853.55 L1112.08,853.41 L1113.27,853.27 L1114.45,853.12 L1115.64,852.96 L1116.83,852.79 L1118.01,852.62 L1119.20,852.44 L1120.39,852.25 L1121.58,852.06 L1122.76,851.86 L1123.95,851.65 L1125.14,851.44 L1126.33,851.22 L1127.51,851.00 L1128.70,850.77 L1129.89,850.54 L1131.07,850.30 L1132.26,850.06 L1133.45,849.81 L1134.64,849.56 L1135.82,849.30 L1137.01,849.04 L1138.20,848.78 L1139.38,848.52 L1140.57,848.25 L1141.75,847.98 L1142.94,847.70 L1144.12,847.43 L1145.31,847.15 L1146.49,846.87 L1147.68,846.58 L1148.86,846.30 L1150.04,846.02 L1151.23,845.73 L1152.41,845.44 L1153.59,845.16 L1154.77,844.87 L1155.95,844.58 L1157.13,844.29 L1158.31,844.00 L1159.49,843.72 L1160.67,843.43 L1161.85,843.14 L1163.03,842.86 L1164.21,842.57 L1165.38,842.29 L1166.56,842.01 L1167.74,841.73 L1168.91,841.45 L1170.09,841.17 L1171.26,840.89 L1172.43,840.61 L1173.61,840.33 L1174.78,840.06 L1175.96,839.78 L1177.13,839.51 L1178.30,839.24 L1179.47,838.97 L1180.64,838.70 L1181.82,838.43 L1182.99,838.16 L1184.16,837.90 L1185.33,837.63 L1186.50,837.37 L1187.67,837.11 L1188.84,836.85 L1190.01,836.59 L1191.18,836.33 L1192.35,836.08 L1193.52,835.82 L1194.69,835.57 L1195.86,835.32 L1197.03,835.07 L1198.20,834.82 L1199.37,834.58 L1200.54,834.33 L1201.71,834.09 L1202.88,833.85 L1204.05,833.61 L1205.22,833.37 L1206.39,833.14 L1207.56,832.90 L1208.73,832.67 L1209.90,832.44 L1211.08,832.22 L1212.25,831.99 L1213.42,831.77 L1214.59,831.54 L1215.76,831.32 L1216.93,831.11 L1218.10,830.89 L1219.28,830.68 L1220.45,830.47 L1221.62,830.26 L1222.80,830.05 L1223.97,829.85 L1225.14,829.64 L1226.32,829.44 L1227.49,829.25 L1228.67,829.05 L1229.84,828.86 L1231.02,828.67 L1232.20,828.48 L1233.37,828.29 L1234.55,828.11 L1235.73,827.93 L1236.91,827.75 L1238.09,827.58 L1239.27,827.41 L1240.45,827.24 L1241.63,827.07 L1242.81,826.90 L1243.99,826.74 L1245.17,826.58 L1246.36,826.43 L1247.54,826.27 L1248.73,826.12 L1249.91,825.97 L1251.10,825.83 L1252.29,825.69 L1253.47,825.55 L1254.66,825.41 L1255.85,825.28 L1257.04,825.15 L1258.23,825.02 L1259.43,824.89 L1260.62,824.77 L1261.81,824.65 L1263.01,824.54 L1264.20,824.43 L1265.40,824.32 L1266.60,824.21 L1267.80,824.11 L1269.00,824.01 L1270.20,823.92 L1271.40,823.83 L1272.60,823.74 L1273.80,823.65 L1275.01,823.57 L1276.22,823.49 L1277.42,823.42 L1278.63,823.35 L1279.84,823.28 L1281.05,823.21 L1282.26,823.15 L1283.48,823.10 L1284.69,823.04 L1285.90,822.99 L1287.12,822.95 L1288.34,822.90 L1289.56,822.87 L1290.78,822.83 L1292.00,822.80" stroke="#0000ff"/>
<path d="M113.75,818.20 L115.00,818.26 L116.25,818.30 L117.49,818.32 L118.73,818.31 L119.97,818.29 L121.21,818.25 L122.45,818.19 L123.68,818.11 L124.91,818.01 L126.14,817.90 L127.37,817.78 L128.60,817.64 L129.83,817.49 L131.05,817.33 L132.28,817.16 L133.50,816.98 L134.72,816.78 L135.94,816.58 L137.16,816.38 L138.38,816.16 L139.60,815.94 L140.82,815.72 L142.04,815.49 L143.26,815.26 L144.48,815.03 L145.70,814.79 L146.91,814.56 L148.13,814.32 L149.35,814.09 L150.57,813.86 L151.79,813.63 L153.01,813.41 L154.23,813.19 L155.45,812.98 L156.68,812.78 L157.90,812.58 L159.12,812.40 L160.35,812.22 L161.58,812.05 L162.81,811.89 L164.04,811.75 L165.27,811.62 L166.50,811.50 L166.50,811.50 L167.64,811.14 L168.78,810.79 L169.92,810.44 L171.07,810.09 L172.21,809.74 L173.36,809.39 L174.50,809.05 L175.65,808.71 L176.80,808.37 L177.95,808.03 L179.10,807.69 L180.25,807.36 L181.40,807.03 L182.56,806.70 L183.71,806.37 L184.87,806.04 L186.02,805.71 L187.18,805.39 L188.34,805.06 L189.50,804.74 L190.65,804.42 L191.81,804.10 L192.97,803.78 L194.13,803.46 L195.29,803.14 L196.46,802.83 L197.62,802.51 L198.78,802.20 L199.94,801.88 L201.11,801.57 L202.27,801.25 L203.43,800.94 L204.60,800.63 L205.76,800.32 L206.93,800.00 L208.09,799.69 L209.25,799.38 L210.42,799.07 L211.58,798.76 L212.75,798.44 L213.91,798.13 L215.08,797.82 L216.24,797.50 L217.41,797.19 L218.57,796.88 L219.74,796.56 L220.90,796.25 L222.06,795.93 L223.23,795.62 L224.39,795.30 L225.55,794.98 L226.72,794.66 L227.88,794.34 L229.04,794.02 L230.20,793.70 L231.36,793.37 L232.52,793.05 L233.68,792.72 L234.84,792.39 L236.00,792.06 L237.16,791.73 L238.32,791.40 L239.47,791.07 L240.63,790.73 L241.78,790.39 L242.94,790.05 L244.09,789.71 L245.24,789.37 L246.39,789.02 L247.54,788.67 L248.69,788.32 L249.84,787.97 L250.99,787.62 L252.14,787.26 L253.28,786.90 L254.43,786.54 L255.57,786.17 L256.71,785.81 L257.85,785.44 L258.99,785.06 L260.13,784.69 L261.27,784.31 L262.40,783.92 L263.54,783.54 L264.67,783.15 L265.80,782.76 L266.93,782.36 L268.06,781.97 L269.18,781.56 L270.31,781.16 L271.43,780.75 L272.55,780.34 L273.67,779.92 L274.79,779.50 L275.91,779.08 L277.02,778.65 L278.14,778.22 L279.25,777.78 L280.36,777.34 L281.47,776.90 L282.57,776.45 L283.68,776.00 L284.78,775.55 L285.88,775.09 L286.98,774.63 L288.08,774.16 L289.18,773.69 L290.27,773.22 L291.36,772.74 L292.45,772.26 L293.54,771.77 L294.63,771.28 L295.71,770.78 L296.80,770.28 L297.88,769.78 L298.96,769.27 L300.04,768.76 L301.11,768.24 L302.19,767.72 L303.26,767.19 L304.33,766.66 L305.40,766.12 L306.46,765.58 L307.53,765.04 L308.59,764.49 L309.65,763.94 L310.71,763.38 L311.77,762.82 L312.82,762.25 L313.87,761.67 L314.93,761.10 L315.97,760.51 L317.02,759.93 L318.07,759.34 L319.11,758.74 L320.15,758.14 L321.19,757.53 L322.22,756.92 L323.26,756.30 L324.29,755.68 L325.32,755.05 L326.35,754.42 L327.37,753.78 L328.40,753.14 L329.42,752.49 L330.44,751.84 L331.46,751.18 L332.47,750.51 L333.48,749.84 L334.49,749.17 L335.50,748.49 L336.51,747.80 L337.50,747.11 L338.50,746.41 L339.49,745.70 L340.48,744.99 L341.46,744.27 L342.43,743.54 L343.40,742.81 L344.36,742.06 L345.31,741.31 L346.26,740.55 L347.20,739.79 L348.13,739.01 L349.05,738.23 L349.96,737.43 L350.86,736.63 L351.75,735.82 L352.64,735.00 L353.51,734.17 L354.36,733.32 L355.21,732.47 L356.05,731.61 L356.87,730.74 L357.68,729.85 L358.47,728.96 L359.25,728.05 L360.02,727.14 L360.77,726.21 L361.51,725.27 L362.23,724.31 L362.94,723.35 L363.64,722.38 L364.32,721.40 L364.99,720.41 L365.64,719.42 L366.29,718.42 L366.92,717.41 L367.54,716.40 L368.15,715.39 L368.75,714.37 L369.34,713.34 L369.92,712.31 L370.49,711.28 L371.05,710.24 L371.60,709.20 L372.13,708.15 L372.66,707.10 L373.18,706.05 L373.69,704.99 L374.18,703.93 L374.67,702.86 L375.15,701.79 L375.62,700.71 L376.08,699.63 L376.53,698.55 L376.97,697.46 L377.40,696.37 L377.83,695.28 L378.24,694.18 L378.65,693.08 L379.05,691.97 L379.44,690.87 L379.82,689.75 L380.19,688.64 L380.56,687.52 L380.92,686.40 L381.27,685.28 L381.61,684.15 L381.94,683.02 L382.27,681.88 L382.59,680.75 L382.90,679.61 L383.21,678.46 L383.51,677.32 L383.80,676.17 L384.09,675.02 L384.36,673.87 L384.64,672.71 L384.90,671.55 L385.16,670.39 L385.42,669.23 L385.66,668.06 L385.91,666.90 L386.14,665.73 L386.37,664.55 L386.60,663.38 L386.82,662.20 L387.03,661.02 L387.24,659.84 L387.44,658.66 L387.64,657.48 L387.84,656.29 L388.03,655.10 L388.21,653.91 L388.39,652.72 L388.57,651.53 L388.74,650.34 L388.91,649.14 L389.07,647.95 L389.23,646.75 L389.39,645.55 L389.54,644.35 L389.69,643.15 L389.83,641.94 L389.98,640.74 L390.12,639.53 L390.25,638.33 L390.38,637.12 L390.51,635.91 L390.64,634.70 L390.77,633.49 L390.89,632.28 L391.01,631.07 L391.13,629.86 L391.24,628.65 L391.36,627.44 L391.47,626.23 L391.58,625.01 L391.69,623.80 L391.79,622.59 L391.90,621.37 L392.00,620.16 L392.10,618.94 L392.21,617.73 L392.31,616.52 L392.41,615.30 L392.50,614.09 L392.60,612.88 L392.70,611.66 L392.80,610.45 L392.89,609.24 L392.99,608.02 L393.09,606.81 L393.18,605.60 L393.27,604.39 L393.37,603.17 L393.46,601.96 L393.55,600.75 L393.64,599.54 L393.73,598.33 L393.83,597.12 L393.91,595.91 L394.00,594.70 L394.09,593.49 L394.18,592.27 L394.27,591.06 L394.35,589.85 L394.44,588.64 L394.53,587.43 L394.61,586.22 L394.70,585.02 L394.78,583.81 L394.86,582.60 L394.95,581.39 L395.03,580.18 L395.11,578.97 L395.19,577.76 L395.27,576.55 L395.35,575.35 L395.43,574.14 L395.51,572.93 L395.59,571.72 L395.66,570.51 L395.74,569.31 L395.82,568.10 L395.89,566.89 L395.97,565.69 L396.04,564.48 L396.12,563.27 L396.19,562.07 L396.27,560.86 L396.34,559.65 L396.41,558.45 L396.48,557.24 L396.56,556.04 L396.63,554.83 L396.70,553.62 L396.77,552.42 L396.84,551.21 L396.90,550.01 L396.97,548.80 L397.04,547.60 L397.11,546.39 L397.17,545.19 L397.24,543.98 L397.31,542.78 L397.37,541.58 L397.44,540.37 L397.50,539.17 L397.56,537.96 L397.63,536.76 L397.69,535.56 L397.75,534.35 L397.82,533.15 L397.88,531.95 L397.94,530.74 L398.00,529.54 L398.06,528.34 L398.12,527.13 L398.18,525.93 L398.24,524.73 L398.29,523.53 L398.35,522.32 L398.41,521.12 L398.47,519.92 L398.52,518.72 L398.58,517.52 L398.64,516.31 L398.69,515.11 L398.75,513.91 L398.80,512.71 L398.85,511.51 L398.91,510.31 L398.96,509.11 L399.01,507.91 L399.07,506.70 L399.12,505.50 L399.17,504.30 L399.22,503.10 L399.27,501.90 L399.32,500.70 L399.37,499.50 L399.42,498.30 L399.47,497.10 L399.52,495.90 L399.57,494.70 L399.62,493.50 L399.66,492.30 L399.71,491.10 L399.76,489.90 L399.80,488.70 L399.85,487.50 L399.90,486.30 L399.94,485.10 L399.99,483.90 L400.03,482.70 L400.08,481.50 L400.12,480.31 L400.16,479.11 L400.21,477.91 L400.25,476.71 L400.29,475.51 L400.33,474.31 L400.38,473.11 L400.42,471.91 L400.46,470.72 L400.50,469.52 L400.54,468.32 L400.58,467.12 L400.62,465.92 L400.66,464.72 L400.70,463.53 L400.74,462.33 L400.78,461.13 L400.82,459.93 L400.85,458.73 L400.89,457.54 L400.93,456.34 L400.97,455.14 L401.00,453.94 L401.04,452.74 L401.08,451.55 L401.11,450.35 L401.15,449.15 L401.18,447.95 L401.22,446.76 L401.25,445.56 L401.29,444.36 L401.32,443.17 L401.36,441.97 L401.39,440.77 L401.42,439.57 L401.46,438.38 L401.49,437.18 L401.52,435.98 L401.55,434.79 L401.59,433.59 L401.62,432.39 L401.65,431.19 L401.68,430.00 L401.71,428.80 L401.74,427.60 L401.77,426.41 L401.80,425.21 L401.83,424.01 L401.86,422.82 L401.89,421.62 L401.92,420.42 L401.95,419.23 L401.98,418.03 L402.01,416.83 L402.04,415.64 L402.07,414.44 L402.10,413.24 L402.12,412.05 L402.15,410.85 L402.18,409.66 L402.21,408.46 L402.23,407.26 L402.26,406.07 L402.29,404.87 L402.32,403.67 L402.34,402.48 L402.37,401.28 L402.39,400.08 L402.42,398.89 L402.45,397.69 L402.47,396.50 L402.50,395.30 L402.52,394.10 L402.55,392.91 L402.57,391.71 L402.60,390.51 L402.62,389.32 L402.65,388.12 L402.67,386.92 L402.69,385.73 L402.72,384.53 L402.74,383.34 L402.77,382.14 L402.79,380.94 L402.81,379.75 L402.84,378.55 L402.86,377.35 L402.88,376.16 L402.91,374.96 L402.93,373.76 L402.95,372.57 L402.97,371.37 L403.00,370.17 L403.02,368.98 L403.04,367.78 L403.06,366.58 L403.08,365.39 L403.11,364.19 L403.13,362.99 L403.15,361.80 L403.17,360.60 L403.19,359.40 L403.21,358.21 L403.24,357.01 L403.26,355.81 L403.28,354.62 L403.30,353.42 L403.32,352.22 L403.34,351.03 L403.36,349.83 L403.38,348.63 L403.40,347.44 L403.42,346.24 L403.44,345.04 L403.46,343.84 L403.49,342.65 L403.51,341.45 L403.53,340.25 L403.55,339.05 L403.57,337.86 L403.59,336.66 L403.61,335.46 L403.63,334.26 L403.65,333.07 L403.67,331.87 L403.69,330.67 L403.71,329.47 L403.73,328.28 L403.75,327.08 L403.77,325.88 L403.79,324.68 L403.81,323.48 L403.83,322.29 L403.85,321.09 L403.87,319.89 L403.89,318.69 L403.91,317.49 L403.93,316.29 L403.95,315.10 L403.97,313.90 L403.99,312.70 L404.01,311.50 L404.03,310.30 L404.04,309.10 L404.06,307.90 L404.08,306.70 L404.10,305.51 L404.12,304.31 L404.14,303.11 L404.16,301.91 L404.18,300.71 L404.20,299.51 L404.22,298.31 L404.25,297.11 L404.27,295.91 L404.29,294.71 L404.31,293.51 L404.33,292.31 L404.35,291.11 L404.37,289.91 L404.39,288.71 L404.41,287.51 L404.43,286.31 L404.45,285.11 L404.47,283.91 L404.49,282.71 L404.51,281.51 L404.53,280.31 L404.55,279.11 L404.58,277.90 L404.60,276.70 L404.62,275.50 L404.64,274.30 L404.66,273.10 L404.68,271.90 L404.70,270.70 L404.73,269.49 L404.75,268.29 L404.77,267.09 L404.79,265.89 L404.81,264.69 L404.84,263.48 L404.86,262.28 L404.88,261.08 L404.90,259.88 L404.93,258.67 L404.95,257.47 L404.97,256.27 L405.00,255.07 L405.02,253.86 L405.04,252.66 L405.07,251.46 L405.09,250.25 L405.11,249.05 L405.14,247.84 L405.16,246.64 L405.19,245.44 L405.21,244.23 L405.24,243.03 L405.26,241.82 L405.29,240.62 L405.31,239.41 L405.34,238.21 L405.36,237.00 L405.39,235.80 L405.41,234.59 L405.44,233.39 L405.47,232.18 L405.49,230.98 L405.52,229.77 L405.55,228.57 L405.57,227.36 L405.60,226.15 L405.63,224.95 L405.65,223.74 L405.68,222.53 L405.71,221.33 L405.74,220.12 L405.77,218.91 L405.80,217.71 L405.82,216.50 L405.85,215.29 L405.88,214.08 L405.91,212.88 L405.94,211.67 L405.97,210.46 L406.00,209.25 L406.03,208.04 L406.06,206.84 L406.09,205.63 L406.12,204.42 L406.15,203.21 L406.19,202.00 L406.22,200.79 L406.25,199.58 L406.28,198.37 L406.32,197.16 L406.35,195.95 L406.38,194.74 L406.41,193.53 L406.45,192.32 L406.48,191.11 L406.52,189.90 L406.55,188.69 L406.58,187.48 L406.62,186.26 L406.65,185.05 L406.69,183.84 L406.73,182.63 L406.76,181.42 L406.80,180.20 L406.84,178.99 L406.87,177.78 L406.91,176.57 L406.95,175.35 L406.98,174.14 L407.02,172.93 L407.06,171.71 L407.10,170.50 L407.10,170.50 L407.12,171.70 L407.14,172.91 L407.16,174.11 L407.18,175.31 L407.20,176.51 L407.22,177.72 L407.24,178.92 L407.26,180.12 L407.28,181.33 L407.30,182.53 L407.32,183.73 L407.34,184.94 L407.36,186.14 L407.38,187.34 L407.40,188.54 L407.41,189.75 L407.43,190.95 L407.45,192.15 L407.47,193.36 L407.49,194.56 L407.51,195.76 L407.52,196.97 L407.54,198.17 L407.56,199.37 L407.58,200.57 L407.59,201.78 L407.61,202.98 L407.63,204.18 L407.64,205.39 L407.66,206.59 L407.68,207.79 L407.69,209.00 L407.71,210.20 L407.73,211.40 L407.74,212.61 L407.76,213.81 L407.77,215.01 L407.79,216.21 L407.81,217.42 L407.82,218.62 L407.84,219.82 L407.85,221.03 L407.87,222.23 L407.88,223.43 L407.90,224.64 L407.91,225.84 L407.93,227.04 L407.94,228.24 L407.96,229.45 L407.97,230.65 L407.98,231.85 L408.00,233.06 L408.01,234.26 L408.03,235.46 L408.04,236.67 L408.05,237.87 L408.07,239.07 L408.08,240.28 L408.09,241.48 L408.11,242.68 L408.12,243.88 L408.13,245.09 L408.15,246.29 L408.16,247.49 L408.17,248.70 L408.18,249.90 L408.20,251.10 L408.21,252.31 L408.22,253.51 L408.23,254.71 L408.25,255.92 L408.26,257.12 L408.27,258.32 L408.28,259.52 L408.29,260.73 L408.30,261.93 L408.32,263.13 L408.33,264.34 L408.34,265.54 L408.35,266.74 L408.36,267.95 L408.37,269.15 L408.38,270.35 L408.39,271.56 L408.40,272.76 L408.41,273.96 L408.43,275.16 L408.44,276.37 L408.45,277.57 L408.46,278.77 L408.47,279.98 L408.48,281.18 L408.49,282.38 L408.50,283.59 L408.51,284.79 L408.52,285.99 L408.53,287.20 L408.54,288.40 L408.55,289.60 L408.55,290.81 L408.56,292.01 L408.57,293.21 L408.58,294.41 L408.59,295.62 L408.60,296.82 L408.61,298.02 L408.62,299.23 L408.63,300.43 L408.64,301.63 L408.65,302.84 L408.65,304.04 L408.66,305.24 L408.67,306.45 L408.68,307.65 L408.69,308.85 L408.70,310.06 L408.70,311.26 L408.71,312.46 L408.72,313.66 L408.73,314.87 L408.74,316.07 L408.75,317.27 L408.75,318.48 L408.76,319.68 L408.77,320.88 L408.78,322.09 L408.78,323.29 L408.79,324.49 L408.80,325.70 L408.81,326.90 L408.81,328.10 L408.82,329.31 L408.83,330.51 L408.84,331.71 L408.84,332.92 L408.85,334.12 L408.86,335.32 L408.86,336.52 L408.87,337.73 L408.88,338.93 L408.88,340.13 L408.89,341.34 L408.90,342.54 L408.90,343.74 L408.91,344.95 L408.92,346.15 L408.92,347.35 L408.93,348.56 L408.94,349.76 L408.94,350.96 L408.95,352.17 L408.96,353.37 L408.96,354.57 L408.97,355.78 L408.98,356.98 L408.98,358.18 L408.99,359.38 L408.99,360.59 L409.00,361.79 L409.01,362.99 L409.01,364.20 L409.02,365.40 L409.02,366.60 L409.03,367.81 L409.04,369.01 L409.04,370.21 L409.05,371.42 L409.05,372.62 L409.06,373.82 L409.07,375.03 L409.07,376.23 L409.08,377.43 L409.08,378.64 L409.09,379.84 L409.09,381.04 L409.10,382.25 L409.10,383.45 L409.11,384.65 L409.12,385.85 L409.12,387.06 L409.13,388.26 L409.13,389.46 L409.14,390.67 L409.14,391.87 L409.15,393.07 L409.15,394.28 L409.16,395.48 L409.16,396.68 L409.17,397.89 L409.17,399.09 L409.18,400.29 L409.19,401.50 L409.19,402.70 L409.20,403.90 L409.20,405.11 L409.21,406.31 L409.21,407.51 L409.22,408.71 L409.22,409.92 L409.23,411.12 L409.23,412.32 L409.24,413.53 L409.24,414.73 L409.25,415.93 L409.25,417.14 L409.26,418.34 L409.26,419.54 L409.27,420.75 L409.27,421.95 L409.28,423.15 L409.28,424.36 L409.29,425.56 L409.29,426.76 L409.30,427.97 L409.30,429.17 L409.31,430.37 L409.31,431.58 L409.32,432.78 L409.33,433.98 L409.33,435.18 L409.34,436.39 L409.34,437.59 L409.35,438.79 L409.35,440.00 L409.36,441.20 L409.36,442.40 L409.37,443.61 L409.37,444.81 L409.38,446.01 L409.38,447.22 L409.39,448.42 L409.39,449.62 L409.40,450.83 L409.40,452.03 L409.41,453.23 L409.41,454.44 L409.42,455.64 L409.43,456.84 L409.43,458.05 L409.44,459.25 L409.44,460.45 L409.45,461.65 L409.45,462.86 L409.46,464.06 L409.46,465.26 L409.47,466.47 L409.48,467.67 L409.48,468.87 L409.49,470.08 L409.49,471.28 L409.50,472.48 L409.50,473.69 L409.51,474.89 L409.52,476.09 L409.52,477.30 L409.53,478.50 L409.53,479.70 L409.54,480.91 L409.55,482.11 L409.55,483.31 L409.56,484.51 L409.56,485.72 L409.57,486.92 L409.58,488.12 L409.58,489.33 L409.59,490.53 L409.59,491.73 L409.60,492.94 L409.61,494.14 L409.61,495.34 L409.62,496.55 L409.63,497.75 L409.63,498.95 L409.64,500.16 L409.65,501.36 L409.65,502.56 L409.66,503.76 L409.67,504.97 L409.67,506.17 L409.68,507.37 L409.69,508.58 L409.69,509.78 L409.70,510.98 L409.71,512.19 L409.72,513.39 L409.72,514.59 L409.73,515.80 L409.74,517.00 L409.75,518.20 L409.75,519.41 L409.76,520.61 L409.77,521.81 L409.78,523.02 L409.78,524.22 L409.79,525.42 L409.80,526.62 L409.81,527.83 L409.81,529.03 L409.82,530.23 L409.83,531.44 L409.84,532.64 L409.85,533.84 L409.85,535.05 L409.86,536.25 L409.87,537.45 L409.88,538.66 L409.89,539.86 L409.90,541.06 L409.91,542.26 L409.91,543.47 L409.92,544.67 L409.93,545.87 L409.94,547.08 L409.95,548.28 L409.96,549.48 L409.97,550.69 L409.98,551.89 L409.99,553.09 L410.00,554.30 L410.01,555.50 L410.02,556.70 L410.02,557.91 L410.03,559.11 L410.04,560.31 L410.05,561.51 L410.06,562.72 L410.07,563.92 L410.08,565.12 L410.09,566.33 L410.10,567.53 L410.12,568.73 L410.13,569.94 L410.14,571.14 L410.15,572.34 L410.16,573.55 L410.17,574.75 L410.18,575.95 L410.19,577.15 L410.20,578.36 L410.21,579.56 L410.22,580.76 L410.23,581.97 L410.25,583.17 L410.26,584.37 L410.27,585.58 L410.28,586.78 L410.29,587.98 L410.31,589.19 L410.32,590.39 L410.33,591.59 L410.34,592.79 L410.35,594.00 L410.37,595.20 L410.38,596.40 L410.39,597.61 L410.40,598.81 L410.42,600.01 L410.43,601.22 L410.44,602.42 L410.46,603.62 L410.47,604.82 L410.48,606.03 L410.50,607.23 L410.51,608.43 L410.52,609.64 L410.54,610.84 L410.55,612.04 L410.57,613.25 L410.58,614.45 L410.59,615.65 L410.61,616.85 L410.62,618.06 L410.64,619.26 L410.65,620.46 L410.67,621.67 L410.68,622.87 L410.70,624.07 L410.71,625.28 L410.73,626.48 L410.74,627.68 L410.76,628.88 L410.77,630.09 L410.79,631.29 L410.81,632.49 L410.82,633.70 L410.84,634.90 L410.86,636.10 L410.87,637.31 L410.89,638.51 L410.90,639.71 L410.92,640.91 L410.94,642.12 L410.96,643.32 L410.97,644.52 L410.99,645.73 L411.01,646.93 L411.03,648.13 L411.04,649.34 L411.06,650.54 L411.08,651.74 L411.10,652.94 L411.12,654.15 L411.13,655.35 L411.15,656.55 L411.17,657.76 L411.19,658.96 L411.21,660.16 L411.23,661.36 L411.25,662.57 L411.27,663.77 L411.29,664.97 L411.31,666.18 L411.33,667.38 L411.35,668.58 L411.37,669.79 L411.39,670.99 L411.41,672.19 L411.43,673.39 L411.45,674.60 L411.47,675.80 L411.49,677.00 L411.51,678.21 L411.53,679.41 L411.55,680.61 L411.58,681.81 L411.60,683.02 L411.62,684.22 L411.64,685.42 L411.66,686.63 L411.69,687.83 L411.71,689.03 L411.73,690.23 L411.75,691.44 L411.78,692.64 L411.80,693.84 L411.82,695.05 L411.85,696.25 L411.87,697.45 L411.90,698.65 L411.92,699.86 L411.94,701.06 L411.97,702.26 L411.99,703.47 L412.02,704.67 L412.04,705.87 L412.07,707.07 L412.09,708.28 L412.12,709.48 L412.14,710.68 L412.17,711.89 L412.19,713.09 L412.22,714.29 L412.25,715.49 L412.27,716.70 L412.30,717.90 L412.30,717.90 L413.04,718.96 L413.71,720.03 L414.32,721.11 L414.87,722.20 L415.38,723.30 L415.85,724.40 L416.29,725.52 L416.71,726.64 L417.12,727.77 L417.52,728.91 L417.93,730.05 L418.36,731.19 L418.80,732.34 L419.28,733.49 L419.79,734.64 L420.35,735.79 L420.97,736.93 L421.67,738.03 L422.48,739.04 L423.42,739.93 L424.50,740.67 L425.66,741.18 L426.82,741.42 L427.92,741.33 L428.91,740.89 L429.79,740.18 L430.58,739.28 L431.28,738.27 L431.90,737.22 L432.44,736.13 L432.91,735.02 L433.32,733.87 L433.68,732.71 L433.98,731.52 L434.23,730.31 L434.44,729.09 L434.62,727.86 L434.77,726.61 L434.89,725.35 L435.00,724.09 L435.09,722.83 L435.18,721.57 L435.27,720.30 L435.35,719.05 L435.45,717.79 L435.57,716.55 L435.71,715.33 L435.87,714.11 L436.04,712.90 L436.24,711.71 L436.44,710.52 L436.65,709.33 L436.86,708.14 L437.08,706.96 L437.29,705.77 L437.49,704.57 L437.68,703.37 L437.86,702.16 L438.02,700.94 L438.16,699.70 L438.29,698.46 L438.42,697.22 L438.56,695.97 L438.71,694.73 L438.88,693.50 L439.08,692.28 L439.31,691.07 L439.59,689.87 L439.92,688.70 L440.31,687.56 L440.76,686.44 L441.29,685.36 L441.90,684.31 L442.60,683.30 L442.60,683.30 L442.98,684.40 L443.35,685.51 L443.72,686.63 L444.09,687.75 L444.46,688.87 L444.83,690.00 L445.21,691.13 L445.58,692.26 L445.95,693.39 L446.33,694.53 L446.71,695.67 L447.10,696.81 L447.49,697.95 L447.88,699.09 L448.28,700.23 L448.68,701.37 L449.09,702.50 L449.51,703.64 L449.93,704.77 L450.36,705.90 L450.80,707.02 L451.25,708.14 L451.71,709.26 L452.18,710.37 L452.66,711.47 L453.15,712.57 L453.66,713.67 L454.17,714.75 L454.70,715.83 L455.24,716.90 L455.79,717.96 L456.36,719.02 L456.95,720.06 L457.55,721.10 L458.16,722.12 L458.80,723.13 L459.45,724.13 L460.11,725.12 L460.80,726.10 L461.50,727.06 L462.23,728.01 L462.97,728.95 L463.74,729.87 L464.52,730.78 L465.33,731.67 L466.15,732.55 L467.00,733.41 L467.87,734.25 L468.76,735.08 L469.66,735.88 L470.58,736.67 L471.52,737.44 L472.47,738.19 L473.44,738.92 L474.42,739.63 L475.41,740.31 L476.41,740.98 L477.43,741.62 L478.45,742.24 L479.48,742.84 L480.53,743.43 L481.58,743.99 L482.64,744.53 L483.72,745.05 L484.79,745.56 L485.88,746.05 L486.98,746.52 L488.08,746.98 L489.19,747.42 L490.31,747.84 L491.43,748.26 L492.56,748.66 L493.69,749.04 L494.83,749.42 L495.97,749.78 L497.12,750.13 L498.28,750.47 L499.43,750.80 L500.60,751.12 L501.76,751.43 L502.93,751.74 L504.10,752.04 L505.27,752.33 L506.44,752.61 L507.62,752.89 L508.79,753.16 L509.97,753.43 L511.15,753.70 L512.33,753.96 L513.51,754.21 L514.69,754.47 L515.87,754.72 L517.05,754.96 L518.23,755.21 L519.41,755.45 L520.59,755.68 L521.78,755.92 L522.96,756.15 L524.14,756.37 L525.33,756.60 L526.51,756.82 L527.69,757.03 L528.88,757.25 L530.06,757.46 L531.25,757.66 L532.44,757.87 L533.62,758.07 L534.81,758.27 L536.00,758.46 L537.18,758.65 L538.37,758.84 L539.56,759.03 L540.75,759.21 L541.94,759.39 L543.13,759.57 L544.32,759.75 L545.51,759.92 L546.70,760.09 L547.89,760.26 L549.08,760.42 L550.27,760.58 L551.46,760.74 L552.65,760.90 L553.84,761.05 L555.04,761.21 L556.23,761.36 L557.42,761.50 L558.61,761.65 L559.81,761.79 L561.00,761.93 L562.20,762.07 L563.39,762.21 L564.58,762.34 L565.78,762.47 L566.97,762.60 L568.17,762.73 L569.37,762.86 L570.56,762.98 L571.76,763.10 L572.95,763.22 L574.15,763.34 L575.35,763.46 L576.54,763.57 L577.74,763.68 L578.94,763.80 L580.13,763.91 L581.33,764.01 L582.53,764.12 L583.73,764.22 L584.93,764.33 L586.12,764.43 L587.32,764.53 L588.52,764.63 L589.72,764.72 L590.92,764.82 L592.12,764.91 L593.32,765.01 L594.52,765.10 L595.72,765.19 L596.92,765.28 L598.12,765.37 L599.32,765.45 L600.52,765.54 L601.72,765.63 L602.92,765.71 L604.12,765.79 L605.32,765.87 L606.52,765.96 L607.72,766.04 L608.92,766.11 L610.12,766.19 L611.32,766.27 L612.52,766.35 L613.72,766.42 L614.92,766.50 L616.12,766.57 L617.32,766.65 L618.53,766.72 L619.73,766.80 L620.93,766.87 L622.13,766.94 L623.33,767.01 L624.53,767.08 L625.73,767.15 L626.93,767.22 L628.13,767.29 L629.34,767.36 L630.54,767.43 L631.74,767.50 L632.94,767.57 L634.14,767.64 L635.34,767.70 L636.54,767.77 L637.75,767.83 L638.95,767.90 L640.15,767.97 L641.35,768.03 L642.55,768.09 L643.75,768.16 L644.96,768.22 L646.16,768.28 L647.36,768.35 L648.56,768.41 L649.76,768.47 L650.96,768.53 L652.17,768.59 L653.37,768.65 L654.57,768.71 L655.77,768.77 L656.97,768.83 L658.17,768.88 L659.38,768.94 L660.58,769.00 L661.78,769.05 L662.98,769.11 L664.18,769.17 L665.39,769.22 L666.59,769.28 L667.79,769.33 L668.99,769.38 L670.19,769.44 L671.40,769.49 L672.60,769.54 L673.80,769.60 L675.00,769.65 L676.20,769.70 L677.41,769.75 L678.61,769.80 L679.81,769.85 L681.01,769.90 L682.21,769.95 L683.42,770.00 L684.62,770.04 L685.82,770.09 L687.02,770.14 L688.23,770.19 L689.43,770.23 L690.63,770.28 L691.83,770.32 L693.04,770.37 L694.24,770.41 L695.44,770.46 L696.64,770.50 L697.84,770.54 L699.05,770.59 L700.25,770.63 L701.45,770.67 L702.65,770.71 L703.86,770.75 L705.06,770.79 L706.26,770.83 L707.46,770.87 L708.67,770.91 L709.87,770.95 L711.07,770.99 L712.27,771.03 L713.48,771.07 L714.68,771.10 L715.88,771.14 L717.09,771.18 L718.29,771.21 L719.49,771.25 L720.69,771.28 L721.90,771.32 L723.10,771.35 L724.30,771.38 L725.50,771.42 L726.71,771.45 L727.91,771.48 L729.11,771.52 L730.31,771.55 L731.52,771.58 L732.72,771.61 L733.92,771.64 L735.13,771.67 L736.33,771.70 L737.53,771.73 L738.73,771.76 L739.94,771.79 L741.14,771.81 L742.34,771.84 L743.54,771.87 L744.75,771.89 L745.95,771.92 L747.15,771.95 L748.36,771.97 L749.56,772.00 L750.76,772.02 L751.96,772.05 L753.17,772.07 L754.37,772.09 L755.57,772.12 L756.78,772.14 L757.98,772.16 L759.18,772.18 L760.38,772.21 L761.59,772.23 L762.79,772.25 L763.99,772.27 L765.20,772.29 L766.40,772.31 L767.60,772.33 L768.81,772.35 L770.01,772.36 L771.21,772.38 L772.41,772.40 L773.62,772.42 L774.82,772.43 L776.02,772.45 L777.23,772.47 L778.43,772.48 L779.63,772.50 L780.83,772.51 L782.04,772.53 L783.24,772.54 L784.44,772.55 L785.65,772.57 L786.85,772.58 L788.05,772.59 L789.25,772.61 L790.46,772.62 L791.66,772.63 L792.86,772.64 L794.07,772.65 L795.27,772.66 L796.47,772.67 L797.68,772.68 L798.88,772.69 L800.08,772.70 L801.28,772.71 L802.49,772.71 L803.69,772.72 L804.89,772.73 L806.10,772.74 L807.30,772.74 L808.50,772.75 L809.70,772.76 L810.91,772.76 L812.11,772.77 L813.31,772.77 L814.52,772.78 L815.72,772.78 L816.92,772.78 L818.12,772.79 L819.33,772.79 L820.53,772.79 L821.73,772.79 L822.94,772.80 L824.14,772.80 L825.34,772.80 L826.54,772.80 L827.75,772.80 L828.95,772.80 L830.15,772.80 L831.36,772.80 L832.56,772.80 L833.76,772.80 L834.96,772.80 L836.17,772.79 L837.37,772.79 L838.57,772.79 L839.78,772.79 L840.98,772.78 L842.18,772.78 L843.38,772.77 L844.59,772.77 L845.79,772.76 L846.99,772.76 L848.19,772.75 L849.40,772.75 L850.60,772.74 L851.80,772.74 L853.01,772.73 L854.21,772.72 L855.41,772.71 L856.61,772.71 L857.82,772.70 L859.02,772.69 L860.22,772.68 L861.42,772.67 L862.63,772.66 L863.83,772.65 L865.03,772.64 L866.23,772.63 L867.44,772.62 L868.64,772.61 L869.84,772.60 L871.04,772.59 L872.25,772.57 L873.45,772.56 L874.65,772.55 L875.85,772.54 L877.06,772.52 L878.26,772.51 L879.46,772.49 L880.66,772.48 L881.87,772.47 L883.07,772.45 L884.27,772.43 L885.47,772.42 L886.67,772.40 L887.88,772.39 L889.08,772.37 L890.28,772.35 L891.48,772.34 L892.69,772.32 L893.89,772.30 L895.09,772.28 L896.29,772.26 L897.50,772.24 L898.70,772.23 L899.90,772.21 L901.10,772.19 L902.30,772.17 L903.51,772.15 L904.71,772.12 L905.91,772.10 L907.11,772.08 L908.31,772.06 L909.52,772.04 L910.72,772.02 L911.92,771.99 L913.12,771.97 L914.32,771.95 L915.53,771.92 L916.73,771.90 L917.93,771.88 L919.13,771.85 L920.33,771.83 L921.53,771.80 L922.74,771.78 L923.94,771.75 L925.14,771.73 L926.34,771.70 L927.54,771.67 L928.74,771.65 L929.95,771.62 L931.15,771.59 L932.35,771.56 L933.55,771.54 L934.75,771.51 L935.95,771.48 L937.16,771.46 L938.36,771.43 L939.56,771.41 L940.76,771.38 L941.97,771.36 L943.17,771.34 L944.37,771.32 L945.58,771.30 L946.78,771.28 L947.99,771.26 L949.19,771.25 L950.40,771.24 L951.60,771.23 L952.81,771.22 L954.02,771.22 L955.23,771.21 L956.44,771.21 L957.64,771.22 L958.85,771.22 L960.07,771.23 L961.28,771.25 L962.49,771.27 L963.70,771.29 L964.92,771.31 L966.13,771.34 L967.35,771.37 L968.57,771.41 L969.79,771.45 L971.00,771.50 L972.22,771.55 L973.44,771.61 L974.66,771.68 L975.87,771.76 L977.08,771.85 L978.29,771.96 L979.49,772.09 L980.68,772.24 L981.87,772.40 L983.04,772.59 L984.20,772.80 L985.36,773.04 L986.50,773.31 L987.62,773.60 L988.74,773.93 L989.83,774.29 L990.91,774.69 L991.98,775.12 L993.02,775.59 L994.04,776.11 L995.05,776.66 L996.03,777.25 L997.00,777.88 L997.94,778.55 L998.87,779.25 L999.78,779.98 L1000.67,780.75 L1001.54,781.55 L1002.39,782.37 L1003.23,783.23 L1004.04,784.11 L1004.85,785.01 L1005.63,785.94 L1006.40,786.89 L1007.15,787.86 L1007.89,788.84 L1008.61,789.85 L1009.31,790.87 L1010.00,791.91 L1010.68,792.96 L1011.34,794.02 L1011.99,795.09 L1012.62,796.17 L1013.24,797.26 L1013.85,798.36 L1014.44,799.45 L1015.02,800.56 L1015.59,801.66 L1016.15,802.76 L1016.70,803.87 L1017.24,804.97 L1017.78,806.07 L1018.31,807.17 L1018.85,808.27 L1019.39,809.35 L1019.93,810.44 L1020.47,811.51 L1021.02,812.58 L1021.58,813.64 L1022.16,814.69 L1022.74,815.73 L1023.34,816.76 L1023.96,817.77 L1024.59,818.77 L1025.25,819.76 L1025.93,820.73 L1026.62,821.69 L1027.34,822.63 L1028.07,823.55 L1028.83,824.47 L1029.60,825.36 L1030.39,826.24 L1031.20,827.11 L1032.03,827.96 L1032.87,828.79 L1033.73,829.61 L1034.61,830.41 L1035.50,831.20 L1036.40,831.97 L1037.33,832.73 L1038.26,833.47 L1039.21,834.19 L1040.18,834.90 L1041.15,835.59 L1042.14,836.27 L1043.14,836.93 L1044.16,837.58 L1045.18,838.20 L1046.22,838.81 L1047.27,839.41 L1048.32,839.99 L1049.39,840.55 L1050.47,841.09 L1051.55,841.62 L1052.65,842.14 L1053.75,842.63 L1054.86,843.11 L1055.98,843.57 L1057.10,844.01 L1058.24,844.44 L1059.37,844.85 L1060.52,845.24 L1061.67,845.62 L1062.82,845.98 L1063.98,846.32 L1065.14,846.64 L1066.31,846.95 L1067.48,847.24 L1068.65,847.51 L1069.82,847.76 L1071.00,848.00 L1072.18,848.22 L1073.36,848.42 L1074.54,848.60 L1075.73,848.77 L1076.92,848.93 L1078.11,849.07 L1079.30,849.19 L1080.49,849.30 L1081.68,849.39 L1082.88,849.47 L1084.07,849.54 L1085.27,849.59 L1086.47,849.63 L1087.67,849.66 L1088.87,849.67 L1090.08,849.68 L1091.28,849.67 L1092.48,849.64 L1093.69,849.61 L1094.89,849.57 L1096.10,849.51 L1097.30,849.45 L1098.51,849.38 L1099.72,849.29 L1100.92,849.20 L1102.13,849.10 L1103.34,848.99 L1104.54,848.87 L1105.75,848.74 L1106.96,848.61 L1108.16,848.47 L1109.37,848.32 L1110.57,848.17 L1111.77,848.01 L1112.98,847.84 L1114.18,847.67 L1115.38,847.49 L1116.58,847.31 L1117.78,847.12 L1118.98,846.93 L1120.17,846.73 L1121.37,846.53 L1122.56,846.33 L1123.75,846.12 L1124.94,845.91 L1126.13,845.70 L1127.32,845.49 L1128.50,845.27 L1129.69,845.05 L1130.87,844.83 L1132.05,844.61 L1133.23,844.38 L1134.41,844.15 L1135.59,843.92 L1136.77,843.69 L1137.94,843.45 L1139.12,843.22 L1140.29,842.98 L1141.47,842.74 L1142.64,842.50 L1143.81,842.25 L1144.98,842.01 L1146.16,841.76 L1147.33,841.52 L1148.50,841.27 L1149.67,841.02 L1150.84,840.76 L1152.00,840.51 L1153.17,840.26 L1154.34,840.00 L1155.51,839.75 L1156.68,839.49 L1157.85,839.24 L1159.02,838.98 L1160.19,838.72 L1161.36,838.46 L1162.53,838.20 L1163.70,837.94 L1164.87,837.68 L1166.04,837.42 L1167.21,837.16 L1168.38,836.90 L1169.55,836.64 L1170.73,836.38 L1171.90,836.12 L1173.07,835.86 L1174.24,835.59 L1175.42,835.33 L1176.59,835.07 L1177.76,834.81 L1178.94,834.55 L1180.11,834.29 L1181.28,834.03 L1182.46,833.78 L1183.63,833.52 L1184.81,833.26 L1185.98,833.00 L1187.16,832.75 L1188.34,832.49 L1189.51,832.24 L1190.69,831.98 L1191.87,831.73 L1193.04,831.48 L1194.22,831.23 L1195.40,830.98 L1196.58,830.73 L1197.75,830.48 L1198.93,830.23 L1200.11,829.99 L1201.29,829.75 L1202.47,829.50 L1203.65,829.26 L1204.83,829.02 L1206.01,828.79 L1207.19,828.55 L1208.37,828.32 L1209.56,828.09 L1210.74,827.85 L1211.92,827.63 L1213.10,827.40 L1214.29,827.18 L1215.47,826.95 L1216.65,826.73 L1217.84,826.51 L1219.02,826.30 L1220.21,826.09 L1221.39,825.87 L1222.58,825.67 L1223.76,825.46 L1224.95,825.26 L1226.13,825.05 L1227.32,824.86 L1228.51,824.66 L1229.70,824.47 L1230.88,824.28 L1232.07,824.09 L1233.26,823.90 L1234.45,823.72 L1235.64,823.54 L1236.83,823.37 L1238.02,823.20 L1239.21,823.03 L1240.40,822.86 L1241.59,822.70 L1242.78,822.54 L1243.98,822.38 L1245.17,822.23 L1246.36,822.08 L1247.55,821.94 L1248.75,821.79 L1249.94,821.66 L1251.14,821.52 L1252.33,821.39 L1253.53,821.26 L1254.72,821.14 L1255.92,821.02 L1257.11,820.91 L1258.31,820.80 L1259.51,820.69 L1260.71,820.59 L1261.90,820.49 L1263.10,820.40 L1264.30,820.31 L1265.50,820.23 L1266.70,820.15 L1267.90,820.07 L1269.10,820.00 L1270.30,819.93 L1271.50,819.87 L1272.71,819.81 L1273.91,819.76 L1275.11,819.71 L1276.32,819.67 L1277.52,819.64 L1278.72,819.60 L1279.93,819.58 L1281.13,819.55 L1282.34,819.54 L1283.54,819.53 L1284.75,819.52 L1285.96,819.52 L1287.17,819.52 L1288.37,819.54 L1289.58,819.55 L1290.79,819.57 L1292.00,819.60" stroke="#008000"/>
<path d="M113.75,818.20 L115.01,818.26 L116.26,818.30 L117.51,818.31 L118.76,818.30 L120.01,818.26 L121.25,818.20 L122.49,818.12 L123.73,818.02 L124.96,817.89 L126.19,817.75 L127.42,817.59 L128.65,817.42 L129.87,817.23 L131.10,817.02 L132.32,816.81 L133.54,816.58 L134.76,816.34 L135.98,816.09 L137.20,815.83 L138.41,815.56 L139.63,815.29 L140.84,815.01 L142.06,814.73 L143.27,814.45 L144.49,814.16 L145.70,813.87 L146.92,813.58 L148.13,813.30 L149.35,813.01 L150.56,812.73 L151.78,812.46 L153.00,812.19 L154.22,811.92 L155.44,811.67 L156.66,811.42 L157.88,811.18 L159.11,810.96 L160.33,810.75 L161.56,810.55 L162.79,810.36 L164.03,810.19 L165.26,810.04 L166.50,809.90 L166.50,809.90 L167.62,809.53 L168.73,809.15 L169.85,808.78 L170.97,808.41 L172.09,808.05 L173.21,807.68 L174.34,807.31 L175.46,806.95 L176.59,806.59 L177.72,806.22 L178.84,805.86 L179.97,805.50 L181.10,805.14 L182.24,804.78 L183.37,804.41 L184.50,804.05 L185.63,803.69 L186.77,803.33 L187.90,802.97 L189.04,802.61 L190.18,802.25 L191.32,801.89 L192.45,801.53 L193.59,801.17 L194.73,800.81 L195.87,800.45 L197.01,800.08 L198.15,799.72 L199.29,799.35 L200.43,798.99 L201.58,798.62 L202.72,798.25 L203.86,797.88 L205.00,797.51 L206.14,797.14 L207.29,796.76 L208.43,796.39 L209.57,796.01 L210.71,795.63 L211.86,795.25 L213.00,794.87 L214.14,794.49 L215.28,794.10 L216.43,793.71 L217.57,793.32 L218.71,792.92 L219.85,792.53 L220.99,792.13 L222.13,791.73 L223.27,791.32 L224.41,790.92 L225.55,790.51 L226.69,790.09 L227.83,789.68 L228.96,789.26 L230.10,788.84 L231.23,788.41 L232.37,787.98 L233.50,787.55 L234.64,787.11 L235.77,786.67 L236.90,786.23 L238.03,785.78 L239.16,785.33 L240.29,784.87 L241.42,784.41 L242.54,783.95 L243.67,783.48 L244.79,783.01 L245.92,782.53 L247.04,782.05 L248.16,781.56 L249.28,781.07 L250.39,780.57 L251.51,780.07 L252.63,779.57 L253.74,779.05 L254.85,778.54 L255.96,778.02 L257.07,777.49 L258.18,776.96 L259.28,776.42 L260.38,775.87 L261.49,775.33 L262.58,774.77 L263.68,774.21 L264.77,773.65 L265.87,773.08 L266.96,772.50 L268.04,771.92 L269.13,771.34 L270.21,770.74 L271.28,770.15 L272.36,769.54 L273.43,768.94 L274.50,768.32 L275.56,767.71 L276.63,767.08 L277.68,766.45 L278.74,765.82 L279.79,765.18 L280.84,764.53 L281.88,763.88 L282.92,763.23 L283.95,762.57 L284.98,761.90 L286.01,761.23 L287.03,760.55 L288.05,759.87 L289.06,759.18 L290.07,758.48 L291.07,757.78 L292.07,757.08 L293.06,756.37 L294.05,755.65 L295.03,754.93 L296.01,754.21 L296.98,753.47 L297.94,752.74 L298.90,751.99 L299.86,751.25 L300.80,750.49 L301.75,749.73 L302.68,748.97 L303.61,748.20 L304.54,747.42 L305.45,746.64 L306.37,745.86 L307.27,745.06 L308.17,744.27 L309.06,743.46 L309.94,742.66 L310.82,741.84 L311.69,741.02 L312.55,740.20 L313.41,739.37 L314.26,738.53 L315.10,737.69 L315.93,736.84 L316.75,735.99 L317.57,735.13 L318.38,734.27 L319.18,733.40 L319.98,732.53 L320.76,731.65 L321.54,730.76 L322.31,729.87 L323.07,728.98 L323.82,728.07 L324.56,727.17 L325.30,726.25 L326.02,725.33 L326.74,724.41 L327.44,723.48 L328.14,722.55 L328.83,721.61 L329.51,720.66 L330.18,719.71 L330.84,718.75 L331.49,717.79 L332.13,716.82 L332.76,715.84 L333.38,714.87 L333.99,713.88 L334.59,712.89 L335.18,711.89 L335.76,710.89 L336.33,709.88 L336.89,708.87 L337.44,707.85 L337.97,706.83 L338.50,705.80 L339.02,704.77 L339.53,703.73 L340.02,702.68 L340.51,701.63 L340.99,700.58 L341.46,699.52 L341.92,698.45 L342.37,697.38 L342.81,696.31 L343.24,695.23 L343.66,694.14 L344.08,693.06 L344.48,691.96 L344.88,690.87 L345.27,689.77 L345.65,688.66 L346.02,687.55 L346.38,686.44 L346.74,685.32 L347.08,684.20 L347.42,683.07 L347.76,681.95 L348.08,680.81 L348.40,679.68 L348.71,678.54 L349.01,677.39 L349.31,676.25 L349.60,675.10 L349.88,673.94 L350.16,672.79 L350.43,671.63 L350.69,670.46 L350.95,669.30 L351.20,668.13 L351.44,666.96 L351.68,665.78 L351.91,664.61 L352.14,663.43 L352.36,662.24 L352.58,661.06 L352.79,659.87 L352.99,658.68 L353.19,657.49 L353.39,656.30 L353.58,655.10 L353.77,653.90 L353.95,652.70 L354.12,651.50 L354.30,650.30 L354.46,649.09 L354.63,647.88 L354.79,646.67 L354.94,645.46 L355.10,644.25 L355.24,643.04 L355.39,641.82 L355.53,640.61 L355.67,639.39 L355.80,638.17 L355.94,636.95 L356.07,635.73 L356.19,634.51 L356.32,633.29 L356.44,632.06 L356.56,630.84 L356.67,629.62 L356.79,628.39 L356.90,627.17 L357.01,625.94 L357.12,624.71 L357.22,623.49 L357.33,622.26 L357.43,621.04 L357.53,619.81 L357.63,618.58 L357.73,617.36 L357.83,616.13 L357.93,614.90 L358.02,613.68 L358.12,612.45 L358.21,611.23 L358.31,610.00 L358.40,608.78 L358.49,607.55 L358.59,606.33 L358.68,605.11 L358.77,603.88 L358.86,602.66 L358.95,601.44 L359.04,600.22 L359.12,598.99 L359.21,597.77 L359.30,596.55 L359.38,595.33 L359.47,594.11 L359.55,592.89 L359.64,591.67 L359.72,590.45 L359.80,589.23 L359.88,588.01 L359.97,586.79 L360.05,585.58 L360.13,584.36 L360.20,583.14 L360.28,581.92 L360.36,580.71 L360.44,579.49 L360.51,578.27 L360.59,577.06 L360.66,575.84 L360.74,574.62 L360.81,573.41 L360.89,572.19 L360.96,570.98 L361.03,569.76 L361.10,568.55 L361.17,567.34 L361.24,566.12 L361.31,564.91 L361.38,563.70 L361.45,562.48 L361.52,561.27 L361.59,560.06 L361.65,558.85 L361.72,557.63 L361.78,556.42 L361.85,555.21 L361.91,554.00 L361.98,552.79 L362.04,551.58 L362.10,550.37 L362.16,549.16 L362.22,547.95 L362.29,546.74 L362.35,545.53 L362.40,544.32 L362.46,543.11 L362.52,541.90 L362.58,540.70 L362.64,539.49 L362.70,538.28 L362.75,537.07 L362.81,535.86 L362.86,534.66 L362.92,533.45 L362.97,532.24 L363.03,531.04 L363.08,529.83 L363.13,528.63 L363.18,527.42 L363.24,526.21 L363.29,525.01 L363.34,523.80 L363.39,522.60 L363.44,521.39 L363.49,520.19 L363.54,518.98 L363.58,517.78 L363.63,516.58 L363.68,515.37 L363.73,514.17 L363.77,512.97 L363.82,511.76 L363.86,510.56 L363.91,509.36 L363.95,508.15 L364.00,506.95 L364.04,505.75 L364.08,504.55 L364.13,503.34 L364.17,502.14 L364.21,500.94 L364.25,499.74 L364.29,498.54 L364.33,497.34 L364.37,496.14 L364.41,494.94 L364.45,493.74 L364.49,492.54 L364.53,491.34 L364.57,490.14 L364.61,488.94 L364.64,487.74 L364.68,486.54 L364.72,485.34 L364.75,484.14 L364.79,482.94 L364.82,481.74 L364.86,480.54 L364.89,479.34 L364.93,478.14 L364.96,476.94 L365.00,475.75 L365.03,474.55 L365.06,473.35 L365.09,472.15 L365.13,470.95 L365.16,469.76 L365.19,468.56 L365.22,467.36 L365.25,466.17 L365.28,464.97 L365.31,463.77 L365.34,462.57 L365.37,461.38 L365.40,460.18 L365.43,458.98 L365.46,457.79 L365.48,456.59 L365.51,455.40 L365.54,454.20 L365.57,453.00 L365.59,451.81 L365.62,450.61 L365.65,449.42 L365.67,448.22 L365.70,447.02 L365.72,445.83 L365.75,444.63 L365.77,443.44 L365.80,442.24 L365.82,441.05 L365.85,439.85 L365.87,438.66 L365.89,437.46 L365.92,436.27 L365.94,435.07 L365.96,433.88 L365.98,432.69 L366.01,431.49 L366.03,430.30 L366.05,429.10 L366.07,427.91 L366.09,426.71 L366.11,425.52 L366.13,424.33 L366.16,423.13 L366.18,421.94 L366.20,420.74 L366.22,419.55 L366.24,418.36 L366.26,417.16 L366.27,415.97 L366.29,414.77 L366.31,413.58 L366.33,412.39 L366.35,411.19 L366.37,410.00 L366.39,408.81 L366.40,407.61 L366.42,406.42 L366.44,405.23 L366.46,404.03 L366.47,402.84 L366.49,401.65 L366.51,400.45 L366.53,399.26 L366.54,398.07 L366.56,396.87 L366.58,395.68 L366.59,394.49 L366.61,393.29 L366.62,392.10 L366.64,390.91 L366.65,389.71 L366.67,388.52 L366.69,387.33 L366.70,386.14 L366.72,384.94 L366.73,383.75 L366.75,382.56 L366.76,381.36 L366.78,380.17 L366.79,378.98 L366.81,377.78 L366.82,376.59 L366.83,375.40 L366.85,374.20 L366.86,373.01 L366.88,371.82 L366.89,370.62 L366.91,369.43 L366.92,368.24 L366.93,367.04 L366.95,365.85 L366.96,364.66 L366.97,363.46 L366.99,362.27 L367.00,361.08 L367.01,359.88 L367.03,358.69 L367.04,357.50 L367.05,356.30 L367.07,355.11 L367.08,353.91 L367.09,352.72 L367.11,351.53 L367.12,350.33 L367.13,349.14 L367.15,347.94 L367.16,346.75 L367.17,345.56 L367.19,344.36 L367.20,343.17 L367.21,341.97 L367.23,340.78 L367.24,339.58 L367.25,338.39 L367.27,337.19 L367.28,336.00 L367.29,334.80 L367.31,333.61 L367.32,332.41 L367.33,331.22 L367.35,330.02 L367.36,328.83 L367.37,327.63 L367.39,326.44 L367.40,325.24 L367.41,324.05 L367.43,322.85 L367.44,321.66 L367.46,320.46 L367.47,319.26 L367.48,318.07 L367.50,316.87 L367.51,315.67 L367.53,314.48 L367.54,313.28 L367.55,312.09 L367.57,310.89 L367.58,309.69 L367.60,308.49 L367.61,307.30 L367.63,306.10 L367.64,304.90 L367.66,303.71 L367.67,302.51 L367.69,301.31 L367.70,300.11 L367.72,298.91 L367.73,297.72 L367.75,296.52 L367.76,295.32 L367.78,294.12 L367.80,292.92 L367.81,291.72 L367.83,290.52 L367.85,289.32 L367.86,288.12 L367.88,286.93 L367.90,285.73 L367.91,284.53 L367.93,283.33 L367.95,282.13 L367.97,280.93 L367.98,279.73 L368.00,278.52 L368.02,277.32 L368.04,276.12 L368.06,274.92 L368.08,273.72 L368.09,272.52 L368.11,271.32 L368.13,270.12 L368.15,268.91 L368.17,267.71 L368.19,266.51 L368.21,265.31 L368.23,264.10 L368.25,262.90 L368.27,261.70 L368.30,260.50 L368.32,259.29 L368.34,258.09 L368.36,256.88 L368.38,255.68 L368.40,254.48 L368.43,253.27 L368.45,252.07 L368.47,250.86 L368.49,249.66 L368.52,248.45 L368.54,247.25 L368.57,246.04 L368.59,244.83 L368.61,243.63 L368.64,242.42 L368.66,241.22 L368.69,240.01 L368.72,238.80 L368.74,237.59 L368.77,236.39 L368.79,235.18 L368.82,233.97 L368.85,232.76 L368.88,231.55 L368.90,230.35 L368.93,229.14 L368.96,227.93 L368.99,226.72 L369.02,225.51 L369.05,224.30 L369.08,223.09 L369.11,221.88 L369.14,220.67 L369.17,219.46 L369.20,218.25 L369.23,217.03 L369.26,215.82 L369.29,214.61 L369.33,213.40 L369.36,212.19 L369.39,210.97 L369.43,209.76 L369.46,208.55 L369.49,207.33 L369.53,206.12 L369.56,204.91 L369.60,203.69 L369.63,202.48 L369.67,201.26 L369.71,200.05 L369.74,198.83 L369.78,197.62 L369.82,196.40 L369.86,195.18 L369.89,193.97 L369.93,192.75 L369.97,191.53 L370.01,190.32 L370.05,189.10 L370.09,187.88 L370.13,186.66 L370.18,185.44 L370.22,184.22 L370.26,183.00 L370.30,181.78 L370.35,180.56 L370.39,179.34 L370.43,178.12 L370.48,176.90 L370.52,175.68 L370.57,174.46 L370.61,173.24 L370.66,172.02 L370.71,170.79 L370.76,169.57 L370.80,168.35 L370.85,167.12 L370.90,165.90 L370.90,165.90 L370.92,167.10 L370.93,168.31 L370.95,169.51 L370.97,170.72 L370.99,171.92 L371.00,173.13 L371.02,174.33 L371.04,175.54 L371.05,176.74 L371.07,177.95 L371.09,179.15 L371.10,180.36 L371.12,181.56 L371.13,182.77 L371.15,183.97 L371.16,185.18 L371.18,186.38 L371.20,187.59 L371.21,188.79 L371.23,190.00 L371.24,191.20 L371.26,192.41 L371.27,193.61 L371.28,194.81 L371.30,196.02 L371.31,197.22 L371.33,198.43 L371.34,199.63 L371.36,200.84 L371.37,202.04 L371.38,203.25 L371.40,204.45 L371.41,205.66 L371.42,206.86 L371.44,208.07 L371.45,209.27 L371.46,210.48 L371.48,211.68 L371.49,212.89 L371.50,214.09 L371.51,215.30 L371.53,216.50 L371.54,217.71 L371.55,218.91 L371.56,220.12 L371.58,221.32 L371.59,222.53 L371.60,223.73 L371.61,224.94 L371.62,226.14 L371.63,227.35 L371.65,228.55 L371.66,229.76 L371.67,230.96 L371.68,232.17 L371.69,233.37 L371.70,234.58 L371.71,235.78 L371.72,236.99 L371.73,238.19 L371.74,239.40 L371.75,240.60 L371.76,241.81 L371.77,243.01 L371.78,244.22 L371.79,245.42 L371.80,246.62 L371.81,247.83 L371.82,249.03 L371.83,250.24 L371.84,251.44 L371.85,252.65 L371.86,253.85 L371.87,255.06 L371.88,256.26 L371.89,257.47 L371.90,258.67 L371.91,259.88 L371.92,261.08 L371.93,262.29 L371.93,263.49 L371.94,264.70 L371.95,265.90 L371.96,267.11 L371.97,268.31 L371.98,269.52 L371.98,270.72 L371.99,271.93 L372.00,273.13 L372.01,274.34 L372.02,275.54 L372.02,276.75 L372.03,277.95 L372.04,279.16 L372.05,280.36 L372.05,281.57 L372.06,282.77 L372.07,283.98 L372.08,285.18 L372.08,286.39 L372.09,287.59 L372.10,288.80 L372.11,290.00 L372.11,291.21 L372.12,292.41 L372.13,293.62 L372.13,294.82 L372.14,296.03 L372.15,297.23 L372.15,298.44 L372.16,299.64 L372.17,300.85 L372.17,302.05 L372.18,303.26 L372.18,304.46 L372.19,305.67 L372.20,306.87 L372.20,308.08 L372.21,309.28 L372.22,310.49 L372.22,311.69 L372.23,312.90 L372.23,314.10 L372.24,315.31 L372.24,316.51 L372.25,317.72 L372.26,318.92 L372.26,320.13 L372.27,321.33 L372.27,322.54 L372.28,323.74 L372.28,324.95 L372.29,326.15 L372.29,327.36 L372.30,328.56 L372.30,329.77 L372.31,330.97 L372.31,332.18 L372.32,333.38 L372.32,334.59 L372.33,335.80 L372.33,337.00 L372.34,338.21 L372.34,339.41 L372.35,340.62 L372.35,341.82 L372.36,343.03 L372.36,344.23 L372.37,345.44 L372.37,346.64 L372.38,347.85 L372.38,349.05 L372.38,350.26 L372.39,351.46 L372.39,352.67 L372.40,353.87 L372.40,355.08 L372.41,356.28 L372.41,357.49 L372.42,358.69 L372.42,359.90 L372.42,361.10 L372.43,362.31 L372.43,363.51 L372.44,364.72 L372.44,365.92 L372.44,367.13 L372.45,368.33 L372.45,369.54 L372.46,370.74 L372.46,371.95 L372.46,373.15 L372.47,374.36 L372.47,375.56 L372.48,376.77 L372.48,377.97 L372.48,379.18 L372.49,380.38 L372.49,381.59 L372.49,382.79 L372.50,384.00 L372.50,385.20 L372.51,386.41 L372.51,387.61 L372.51,388.82 L372.52,390.02 L372.52,391.23 L372.52,392.43 L372.53,393.64 L372.53,394.84 L372.54,396.05 L372.54,397.25 L372.54,398.46 L372.55,399.66 L372.55,400.87 L372.55,402.07 L372.56,403.28 L372.56,404.48 L372.56,405.69 L372.57,406.89 L372.57,408.10 L372.57,409.30 L372.58,410.51 L372.58,411.71 L372.59,412.92 L372.59,414.12 L372.59,415.33 L372.60,416.53 L372.60,417.74 L372.60,418.94 L372.61,420.15 L372.61,421.35 L372.61,422.56 L372.62,423.76 L372.62,424.97 L372.62,426.17 L372.63,427.38 L372.63,428.59 L372.64,429.79 L372.64,431.00 L372.64,432.20 L372.65,433.41 L372.65,434.61 L372.65,435.82 L372.66,437.02 L372.66,438.23 L372.67,439.43 L372.67,440.64 L372.67,441.84 L372.68,443.05 L372.68,444.25 L372.68,445.46 L372.69,446.66 L372.69,447.87 L372.70,449.07 L372.70,450.28 L372.70,451.48 L372.71,452.69 L372.71,453.89 L372.72,455.10 L372.72,456.30 L372.72,457.51 L372.73,458.71 L372.73,459.92 L372.74,461.12 L372.74,462.33 L372.74,463.53 L372.75,464.74 L372.75,465.94 L372.76,467.15 L372.76,468.35 L372.77,469.56 L372.77,470.76 L372.77,471.97 L372.78,473.17 L372.78,474.38 L372.79,475.58 L372.79,476.79 L372.80,477.99 L372.80,479.20 L372.81,480.40 L372.81,481.61 L372.82,482.81 L372.82,484.02 L372.83,485.22 L372.83,486.43 L372.84,487.63 L372.84,488.84 L372.85,490.04 L372.85,491.25 L372.86,492.45 L372.86,493.66 L372.87,494.86 L372.87,496.07 L372.88,497.27 L372.88,498.48 L372.89,499.68 L372.89,500.89 L372.90,502.09 L372.90,503.30 L372.91,504.50 L372.91,505.71 L372.92,506.91 L372.93,508.12 L372.93,509.32 L372.94,510.53 L372.94,511.73 L372.95,512.94 L372.96,514.14 L372.96,515.35 L372.97,516.55 L372.97,517.76 L372.98,518.96 L372.99,520.17 L372.99,521.37 L373.00,522.58 L373.01,523.78 L373.01,524.99 L373.02,526.19 L373.03,527.40 L373.03,528.60 L373.04,529.81 L373.05,531.01 L373.05,532.22 L373.06,533.42 L373.07,534.63 L373.07,535.83 L373.08,537.04 L373.09,538.24 L373.10,539.45 L373.10,540.65 L373.11,541.86 L373.12,543.06 L373.13,544.27 L373.13,545.47 L373.14,546.68 L373.15,547.88 L373.16,549.09 L373.17,550.29 L373.17,551.50 L373.18,552.70 L373.19,553.91 L373.20,555.11 L373.21,556.32 L373.22,557.52 L373.22,558.73 L373.23,559.93 L373.24,561.14 L373.25,562.34 L373.26,563.54 L373.27,564.75 L373.28,565.95 L373.29,567.16 L373.30,568.36 L373.31,569.57 L373.32,570.77 L373.32,571.98 L373.33,573.18 L373.34,574.39 L373.35,575.59 L373.36,576.80 L373.37,578.00 L373.38,579.21 L373.39,580.41 L373.40,581.62 L373.41,582.82 L373.43,584.03 L373.44,585.23 L373.45,586.44 L373.46,587.64 L373.47,588.85 L373.48,590.05 L373.49,591.26 L373.50,592.46 L373.51,593.67 L373.52,594.87 L373.54,596.08 L373.55,597.28 L373.56,598.49 L373.57,599.69 L373.58,600.90 L373.59,602.10 L373.61,603.30 L373.62,604.51 L373.63,605.71 L373.64,606.92 L373.66,608.12 L373.67,609.33 L373.68,610.53 L373.69,611.74 L373.71,612.94 L373.72,614.15 L373.73,615.35 L373.75,616.56 L373.76,617.76 L373.77,618.97 L373.79,620.17 L373.80,621.38 L373.82,622.58 L373.83,623.79 L373.84,624.99 L373.86,626.20 L373.87,627.40 L373.89,628.61 L373.90,629.81 L373.92,631.01 L373.93,632.22 L373.95,633.42 L373.96,634.63 L373.98,635.83 L373.99,637.04 L374.01,638.24 L374.02,639.45 L374.04,640.65 L374.06,641.86 L374.07,643.06 L374.09,644.27 L374.10,645.47 L374.12,646.68 L374.14,647.88 L374.15,649.08 L374.17,650.29 L374.19,651.49 L374.20,652.70 L374.22,653.90 L374.24,655.11 L374.26,656.31 L374.27,657.52 L374.29,658.72 L374.31,659.93 L374.33,661.13 L374.35,662.34 L374.36,663.54 L374.38,664.75 L374.40,665.95 L374.42,667.15 L374.44,668.36 L374.46,669.56 L374.48,670.77 L374.50,671.97 L374.52,673.18 L374.54,674.38 L374.56,675.59 L374.58,676.79 L374.60,678.00 L374.62,679.20 L374.64,680.41 L374.66,681.61 L374.68,682.81 L374.70,684.02 L374.72,685.22 L374.74,686.43 L374.76,687.63 L374.78,688.84 L374.80,690.04 L374.83,691.25 L374.85,692.45 L374.87,693.66 L374.89,694.86 L374.91,696.06 L374.94,697.27 L374.96,698.47 L374.98,699.68 L375.01,700.88 L375.03,702.09 L375.05,703.29 L375.08,704.50 L375.10,705.70 L375.10,705.70 L376.04,706.63 L376.84,707.60 L377.53,708.59 L378.10,709.63 L378.59,710.69 L379.00,711.79 L379.36,712.93 L379.67,714.09 L379.96,715.29 L380.24,716.51 L380.52,717.75 L380.83,719.00 L381.17,720.24 L381.56,721.46 L382.02,722.65 L382.56,723.81 L383.21,724.92 L383.96,725.95 L384.80,726.81 L385.70,727.36 L386.63,727.46 L387.54,727.10 L388.40,726.38 L389.18,725.43 L389.82,724.35 L390.33,723.23 L390.72,722.07 L391.01,720.87 L391.22,719.64 L391.38,718.41 L391.51,717.16 L391.63,715.91 L391.73,714.66 L391.84,713.41 L391.93,712.17 L392.02,710.93 L392.11,709.68 L392.19,708.44 L392.27,707.20 L392.34,705.96 L392.42,704.72 L392.49,703.49 L392.56,702.25 L392.63,701.02 L392.70,699.79 L392.77,698.56 L392.84,697.33 L392.92,696.10 L393.00,694.87 L393.08,693.65 L393.16,692.43 L393.25,691.21 L393.35,689.99 L393.45,688.77 L393.56,687.55 L393.67,686.34 L393.80,685.13 L393.93,683.92 L394.07,682.71 L394.21,681.50 L394.37,680.30 L394.54,679.10 L394.72,677.90 L394.92,676.70 L395.12,675.50 L395.34,674.31 L395.58,673.12 L395.82,671.93 L396.09,670.74 L396.37,669.56 L396.66,668.38 L396.97,667.20 L397.30,666.02 L397.65,664.84 L398.01,663.67 L398.40,662.50 L398.40,662.50 L398.78,663.65 L399.15,664.80 L399.51,665.96 L399.86,667.11 L400.20,668.26 L400.54,669.41 L400.87,670.56 L401.19,671.72 L401.51,672.87 L401.82,674.02 L402.13,675.17 L402.44,676.32 L402.75,677.47 L403.05,678.62 L403.36,679.77 L403.66,680.92 L403.96,682.07 L404.27,683.22 L404.58,684.36 L404.89,685.51 L405.21,686.65 L405.53,687.79 L405.86,688.94 L406.20,690.08 L406.54,691.22 L406.89,692.35 L407.25,693.49 L407.61,694.62 L407.99,695.76 L408.38,696.89 L408.78,698.02 L409.20,699.15 L409.63,700.27 L410.07,701.39 L410.52,702.52 L411.00,703.63 L411.49,704.75 L411.99,705.87 L412.52,706.98 L413.06,708.09 L413.62,709.19 L414.20,710.29 L414.80,711.37 L415.43,712.45 L416.07,713.50 L416.73,714.55 L417.42,715.57 L418.13,716.57 L418.86,717.54 L419.62,718.49 L420.40,719.41 L421.20,720.30 L422.02,721.17 L422.87,722.00 L423.74,722.81 L424.63,723.58 L425.53,724.33 L426.46,725.06 L427.41,725.76 L428.37,726.43 L429.35,727.08 L430.35,727.70 L431.36,728.30 L432.39,728.88 L433.43,729.43 L434.48,729.96 L435.55,730.47 L436.63,730.96 L437.72,731.43 L438.82,731.87 L439.93,732.30 L441.05,732.70 L442.18,733.09 L443.31,733.46 L444.45,733.81 L445.60,734.14 L446.76,734.46 L447.91,734.76 L449.08,735.04 L450.24,735.31 L451.41,735.56 L452.58,735.80 L453.75,736.02 L454.93,736.23 L456.10,736.43 L457.28,736.61 L458.46,736.78 L459.65,736.94 L460.83,737.08 L462.02,737.21 L463.21,737.33 L464.40,737.44 L465.59,737.54 L466.78,737.62 L467.97,737.70 L469.17,737.76 L470.37,737.82 L471.56,737.86 L472.76,737.89 L473.96,737.92 L475.17,737.94 L476.37,737.95 L477.57,737.95 L478.78,737.94 L479.98,737.92 L481.19,737.90 L482.39,737.87 L483.60,737.84 L484.81,737.79 L486.01,737.75 L487.22,737.69 L488.43,737.63 L489.64,737.57 L490.85,737.50 L492.06,737.42 L493.27,737.34 L494.48,737.26 L495.69,737.18 L496.90,737.09 L498.11,737.00 L499.31,736.90 L500.52,736.80 L501.73,736.70 L502.94,736.60 L504.15,736.50 L505.35,736.40 L506.56,736.29 L507.77,736.18 L508.97,736.07 L510.18,735.97 L511.38,735.86 L512.59,735.75 L513.79,735.64 L515.00,735.53 L516.20,735.41 L517.41,735.30 L518.61,735.19 L519.82,735.09 L521.02,734.98 L522.22,734.87 L523.43,734.76 L524.63,734.66 L525.83,734.55 L527.03,734.45 L528.24,734.35 L529.44,734.25 L530.64,734.15 L531.84,734.06 L533.04,733.97 L534.24,733.88 L535.44,733.79 L536.65,733.71 L537.85,733.63 L539.05,733.55 L540.25,733.48 L541.45,733.41 L542.65,733.35 L543.85,733.29 L545.05,733.23 L546.25,733.18 L547.45,733.13 L548.65,733.09 L549.85,733.05 L551.05,733.02 L552.25,732.99 L553.45,732.97 L554.65,732.95 L555.84,732.94 L557.04,732.93 L558.24,732.94 L559.44,732.94 L560.64,732.96 L561.84,732.98 L563.04,733.01 L564.24,733.04 L565.44,733.08 L566.64,733.12 L567.84,733.17 L569.04,733.22 L570.24,733.28 L571.44,733.34 L572.64,733.40 L573.83,733.47 L575.03,733.53 L576.23,733.60 L577.43,733.67 L578.63,733.74 L579.83,733.82 L581.03,733.89 L582.23,733.96 L583.43,734.03 L584.63,734.10 L585.83,734.18 L587.03,734.25 L588.23,734.32 L589.43,734.39 L590.63,734.46 L591.83,734.53 L593.03,734.61 L594.23,734.68 L595.43,734.75 L596.63,734.82 L597.83,734.89 L599.03,734.96 L600.23,735.03 L601.43,735.10 L602.63,735.18 L603.83,735.25 L605.03,735.32 L606.23,735.39 L607.43,735.46 L608.63,735.53 L609.83,735.60 L611.03,735.67 L612.23,735.74 L613.43,735.81 L614.63,735.88 L615.84,735.95 L617.04,736.02 L618.24,736.09 L619.44,736.16 L620.64,736.23 L621.84,736.30 L623.04,736.37 L624.24,736.44 L625.44,736.51 L626.64,736.58 L627.84,736.65 L629.04,736.71 L630.24,736.78 L631.45,736.85 L632.65,736.92 L633.85,736.99 L635.05,737.06 L636.25,737.13 L637.45,737.19 L638.65,737.26 L639.85,737.33 L641.05,737.40 L642.25,737.46 L643.46,737.53 L644.66,737.60 L645.86,737.67 L647.06,737.73 L648.26,737.80 L649.46,737.87 L650.66,737.93 L651.86,738.00 L653.07,738.07 L654.27,738.13 L655.47,738.20 L656.67,738.27 L657.87,738.33 L659.07,738.40 L660.27,738.46 L661.48,738.53 L662.68,738.59 L663.88,738.66 L665.08,738.72 L666.28,738.79 L667.48,738.85 L668.68,738.92 L669.89,738.98 L671.09,739.05 L672.29,739.11 L673.49,739.17 L674.69,739.24 L675.89,739.30 L677.10,739.37 L678.30,739.43 L679.50,739.49 L680.70,739.55 L681.90,739.62 L683.10,739.68 L684.31,739.74 L685.51,739.80 L686.71,739.87 L687.91,739.93 L689.11,739.99 L690.31,740.05 L691.52,740.11 L692.72,740.17 L693.92,740.24 L695.12,740.30 L696.32,740.36 L697.52,740.42 L698.73,740.48 L699.93,740.54 L701.13,740.60 L702.33,740.66 L703.53,740.72 L704.73,740.78 L705.94,740.83 L707.14,740.89 L708.34,740.95 L709.54,741.01 L710.74,741.07 L711.95,741.13 L713.15,741.18 L714.35,741.24 L715.55,741.30 L716.75,741.36 L717.95,741.41 L719.16,741.47 L720.36,741.53 L721.56,741.58 L722.76,741.64 L723.96,741.70 L725.17,741.75 L726.37,741.81 L727.57,741.86 L728.77,741.92 L729.97,741.97 L731.17,742.03 L732.38,742.08 L733.58,742.13 L734.78,742.19 L735.98,742.24 L737.18,742.30 L738.38,742.35 L739.59,742.40 L740.79,742.45 L741.99,742.51 L743.19,742.56 L744.39,742.61 L745.59,742.66 L746.80,742.71 L748.00,742.76 L749.20,742.82 L750.40,742.87 L751.60,742.92 L752.80,742.97 L754.01,743.02 L755.21,743.07 L756.41,743.12 L757.61,743.17 L758.81,743.21 L760.01,743.26 L761.22,743.31 L762.42,743.36 L763.62,743.41 L764.82,743.45 L766.02,743.50 L767.22,743.55 L768.43,743.60 L769.63,743.64 L770.83,743.69 L772.03,743.73 L773.23,743.78 L774.43,743.83 L775.63,743.87 L776.84,743.91 L778.04,743.96 L779.24,744.00 L780.44,744.05 L781.64,744.09 L782.84,744.13 L784.04,744.18 L785.24,744.22 L786.45,744.26 L787.65,744.31 L788.85,744.35 L790.05,744.39 L791.25,744.43 L792.45,744.47 L793.65,744.51 L794.85,744.55 L796.05,744.59 L797.26,744.63 L798.46,744.67 L799.66,744.71 L800.86,744.75 L802.06,744.79 L803.26,744.83 L804.46,744.86 L805.66,744.90 L806.86,744.94 L808.06,744.98 L809.26,745.01 L810.46,745.05 L811.67,745.08 L812.87,745.12 L814.07,745.16 L815.27,745.19 L816.47,745.23 L817.67,745.26 L818.87,745.29 L820.07,745.33 L821.27,745.36 L822.47,745.39 L823.67,745.43 L824.87,745.46 L826.07,745.49 L827.27,745.52 L828.47,745.55 L829.67,745.58 L830.87,745.62 L832.07,745.65 L833.27,745.68 L834.47,745.71 L835.67,745.74 L836.87,745.76 L838.08,745.79 L839.28,745.82 L840.48,745.85 L841.68,745.88 L842.88,745.91 L844.08,745.93 L845.28,745.96 L846.48,745.99 L847.68,746.02 L848.88,746.04 L850.08,746.07 L851.28,746.10 L852.48,746.12 L853.68,746.15 L854.88,746.17 L856.08,746.20 L857.28,746.22 L858.48,746.25 L859.68,746.27 L860.88,746.30 L862.08,746.32 L863.29,746.34 L864.49,746.37 L865.69,746.39 L866.89,746.41 L868.09,746.44 L869.29,746.46 L870.49,746.48 L871.69,746.51 L872.89,746.53 L874.09,746.55 L875.30,746.57 L876.50,746.60 L877.70,746.62 L878.90,746.64 L880.10,746.66 L881.30,746.68 L882.51,746.70 L883.71,746.72 L884.91,746.75 L886.11,746.77 L887.31,746.79 L888.52,746.81 L889.72,746.83 L890.92,746.85 L892.12,746.87 L893.33,746.89 L894.53,746.91 L895.73,746.93 L896.93,746.95 L898.14,746.97 L899.34,746.99 L900.54,747.01 L901.75,747.03 L902.95,747.05 L904.16,747.07 L905.36,747.08 L906.56,747.10 L907.77,747.12 L908.97,747.14 L910.18,747.16 L911.38,747.18 L912.58,747.20 L913.79,747.22 L914.99,747.24 L916.20,747.26 L917.40,747.27 L918.61,747.29 L919.81,747.31 L921.02,747.33 L922.23,747.35 L923.43,747.37 L924.64,747.39 L925.84,747.41 L927.05,747.42 L928.26,747.44 L929.46,747.46 L930.67,747.48 L931.88,747.50 L933.08,747.52 L934.29,747.54 L935.50,747.56 L936.71,747.58 L937.92,747.59 L939.12,747.61 L940.33,747.63 L941.54,747.65 L942.75,747.67 L943.96,747.69 L945.17,747.71 L946.38,747.73 L947.59,747.75 L948.80,747.77 L950.01,747.79 L951.22,747.81 L952.43,747.83 L953.64,747.85 L954.85,747.87 L956.06,747.88 L957.27,747.91 L958.48,747.93 L959.69,747.95 L960.90,747.97 L962.12,747.99 L963.33,748.01 L964.54,748.03 L965.75,748.05 L966.97,748.07 L968.18,748.09 L969.39,748.11 L970.61,748.13 L971.82,748.16 L973.03,748.18 L974.24,748.21 L975.45,748.25 L976.65,748.30 L977.85,748.37 L979.04,748.45 L980.22,748.55 L981.40,748.67 L982.56,748.82 L983.72,748.99 L984.86,749.19 L985.99,749.42 L987.10,749.68 L988.20,749.98 L989.29,750.32 L990.36,750.71 L991.41,751.13 L992.44,751.60 L993.45,752.12 L994.43,752.70 L995.40,753.32 L996.35,753.99 L997.27,754.71 L998.18,755.48 L999.06,756.28 L999.93,757.12 L1000.78,757.99 L1001.61,758.90 L1002.43,759.84 L1003.23,760.80 L1004.01,761.78 L1004.78,762.78 L1005.53,763.80 L1006.27,764.84 L1007.00,765.88 L1007.71,766.94 L1008.42,768.00 L1009.11,769.06 L1009.79,770.12 L1010.46,771.18 L1011.12,772.23 L1011.77,773.27 L1012.42,774.31 L1013.05,775.33 L1013.68,776.35 L1014.30,777.37 L1014.92,778.38 L1015.53,779.38 L1016.13,780.39 L1016.73,781.39 L1017.33,782.39 L1017.92,783.39 L1018.50,784.39 L1019.09,785.39 L1019.67,786.40 L1020.25,787.41 L1020.83,788.42 L1021.40,789.44 L1021.98,790.47 L1022.56,791.50 L1023.13,792.54 L1023.71,793.60 L1024.29,794.66 L1024.87,795.73 L1025.46,796.81 L1026.05,797.90 L1026.65,798.98 L1027.25,800.07 L1027.87,801.15 L1028.50,802.22 L1029.14,803.28 L1029.80,804.32 L1030.48,805.35 L1031.17,806.36 L1031.89,807.34 L1032.63,808.30 L1033.39,809.23 L1034.18,810.12 L1035.00,810.98 L1035.84,811.80 L1036.72,812.58 L1037.63,813.32 L1038.57,814.00 L1039.54,814.65 L1040.53,815.24 L1041.56,815.79 L1042.61,816.29 L1043.68,816.74 L1044.78,817.14 L1045.90,817.49 L1047.04,817.79 L1048.19,818.05 L1049.37,818.26 L1050.55,818.44 L1051.74,818.58 L1052.95,818.69 L1054.15,818.76 L1055.37,818.82 L1056.58,818.84 L1057.81,818.85 L1059.03,818.84 L1060.26,818.81 L1061.49,818.76 L1062.72,818.71 L1063.95,818.65 L1065.18,818.58 L1066.41,818.51 L1067.64,818.44 L1068.87,818.37 L1070.09,818.31 L1071.31,818.25 L1072.52,818.20 L1073.73,818.17 L1074.94,818.15 L1076.14,818.15 L1077.33,818.17 L1078.51,818.21 L1079.68,818.28 L1080.85,818.37 L1082.00,818.50 L1082.00,818.50 L1292.00,818.50" stroke="#ff0000"/>
</g>
<g stroke="#000" stroke-width="1.20" fill="none">
<path d="M113.70,906.60 v-10.20 M113.70,14.40 v10.20 M284.40,906.60 v-10.20 M284.40,14.40 v10.20 M457.00,906.60 v-10.20 M457.00,14.40 v10.20 M627.80,906.60 v-10.20 M627.80,14.40 v10.20 M800.40,906.60 v-10.20 M800.40,14.40 v10.20 M971.30,906.60 v-10.20 M971.30,14.40 v10.20 M1143.80,906.60 v-10.20 M1143.80,14.40 v10.20 M113.75,906.60 h10.20 M1289.00,906.60 h-10.20 M113.75,817.38 h10.20 M1289.00,817.38 h-10.20 M113.75,728.16 h10.20 M1289.00,728.16 h-10.20 M113.75,638.94 h10.20 M1289.00,638.94 h-10.20 M113.75,549.72 h10.20 M1289.00,549.72 h-10.20 M113.75,460.50 h10.20 M1289.00,460.50 h-10.20 M113.75,371.28 h10.20 M1289.00,371.28 h-10.20 M113.75,282.06 h10.20 M1289.00,282.06 h-10.20 M113.75,192.84 h10.20 M1289.00,192.84 h-10.20 M113.75,103.62 h10.20 M1289.00,103.62 h-10.20 M113.75,14.40 h10.20 M1289.00,14.40 h-10.20"/>
</g>
<rect x="113.75" y="14.40" width="1175.25" height="892.20" fill="none" stroke="#000" stroke-width="2.30"/>
<g>
<text font-size="31.10" transform="translate(104.42,938.90) scale(1.0000,1)">0</text>
<text font-size="31.10" transform="translate(255.20,938.90) scale(1.0000,1)">200</text>
<text font-size="31.10" transform="translate(427.62,938.90) scale(1.0000,1)">400</text>
<text font-size="31.10" transform="translate(598.60,938.90) scale(1.0000,1)">600</text>
<text font-size="31.10" transform="translate(770.67,938.90) scale(1.0000,1)">800</text>
<text font-size="31.10" transform="translate(930.85,938.90) scale(1.0000,1)">1000</text>
<text font-size="31.10" transform="translate(1103.00,938.90) scale(1.0000,1)">1200</text>
<text font-size="31.10" transform="translate(61.85,918.10) scale(1.0000,1)">−2</text>
<text font-size="31.10" transform="translate(86.85,828.88) scale(1.0000,1)">0</text>
<text font-size="31.10" transform="translate(87.85,739.66) scale(1.0000,1)">2</text>
<text font-size="31.10" transform="translate(86.60,650.44) scale(1.0000,1)">4</text>
<text font-size="31.10" transform="translate(86.85,561.22) scale(1.0000,1)">6</text>
<text font-size="31.10" transform="translate(86.85,472.00) scale(1.0000,1)">8</text>
<text font-size="31.10" transform="translate(67.10,382.78) scale(1.0000,1)">10</text>
<text font-size="31.10" transform="translate(68.10,293.56) scale(1.0000,1)">12</text>
<text font-size="31.10" transform="translate(66.85,204.34) scale(1.0000,1)">14</text>
<text font-size="31.10" transform="translate(66.85,115.12) scale(1.0000,1)">16</text>
<text font-size="31.10" transform="translate(67.10,25.90) scale(1.0000,1)">18</text>
</g>
<text font-size="38.90" transform="translate(613.70,981.00) scale(0.9833,1)">Time [ns]</text>
<g transform="translate(38.9,0) rotate(-90)">
<text font-size="38.90" transform="translate(-846.06,0.00) scale(0.9755,1)">Electric field (</text>
<text class="m" font-style="italic" font-size="38.00" transform="translate(-586.22,0.00) scale(1.2151,1)">r</text>
<text class="m" font-size="33.00" transform="translate(-561.10,2.00) scale(1.6000,1)">=</text>
<text class="m" font-size="38.00" transform="translate(-529.81,0.00) scale(1.0062,1)">0</text>
<text font-size="38.90" transform="translate(-510.03,0.00) scale(1.1091,1)">,</text>
<text class="m" font-style="italic" font-size="38.00" transform="translate(-485.08,0.00) scale(1.0441,1)">z</text>
<text class="m" font-size="33.00" transform="translate(-462.30,2.00) scale(1.6590,1)">=</text>
<text class="m" font-size="38.00" transform="translate(-429.91,0.00) scale(1.0286,1)">5.0</text>
<text font-size="38.90" transform="translate(-369.22,0.00) scale(1.0044,1)">mm) [kV.cm</text>
<text class="m" font-size="27.00" transform="translate(-134.38,-13.60) scale(1.2627,1)">−</text>
<text class="m" font-size="27.00" transform="translate(-114.79,-17.20) scale(0.9579,1)">1</text>
<text font-size="38.90" transform="translate(-94.64,0.00) scale(1.0500,1)">]</text>
</g>
<rect x="709.7" y="33.8" width="561.2" height="242.4" fill="#fff" stroke="#000" stroke-width="1.8"/>
<path d="M734.6,66.00 H792.6" stroke="#000000" stroke-width="5.30" fill="none"/>
<text font-size="38.90" transform="translate(831.33,80.50) scale(0.9799,1)">Floating target, 6 kV</text>
<path d="M734.6,124.35 H792.6" stroke="#0000ff" stroke-width="5.30" fill="none"/>
<text font-size="38.90" transform="translate(831.33,138.85) scale(0.9795,1)">No target, 5 kV</text>
<path d="M734.6,182.70 H792.6" stroke="#008000" stroke-width="5.30" fill="none"/>
<text font-size="38.90" transform="translate(831.33,197.20) scale(0.9799,1)">Floating target, 5 kV</text>
<path d="M734.6,241.05 H792.6" stroke="#ff0000" stroke-width="5.30" fill="none"/>
<text font-size="38.90" transform="translate(831.10,255.55) scale(0.9796,1)">Grounded target, 5 kV</text>
</svg></body></html>
